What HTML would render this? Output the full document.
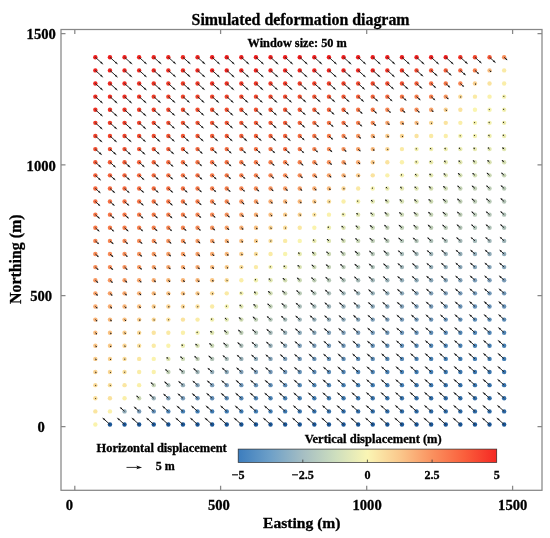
<!DOCTYPE html>
<html><head><meta charset="utf-8"><title>Simulated deformation diagram</title><style>html,body{margin:0;padding:0;background:#fff}svg{display:block}</style></head><body>
<svg width="550" height="538" viewBox="0 0 550 538">
<rect width="550" height="538" fill="#fff"/>
<g><circle cx="95.35" cy="57.30" r="2.2" fill="#ec1c1c"/><circle cx="109.95" cy="57.30" r="2.2" fill="#ec1e1d"/><circle cx="124.55" cy="57.30" r="2.2" fill="#ed201e"/><circle cx="139.15" cy="57.30" r="2.2" fill="#ed221e"/><circle cx="153.75" cy="57.30" r="2.2" fill="#ed251f"/><circle cx="168.35" cy="57.30" r="2.2" fill="#ed2720"/><circle cx="182.95" cy="57.30" r="2.2" fill="#ee2921"/><circle cx="197.55" cy="57.30" r="2.2" fill="#ed231f"/><circle cx="212.15" cy="57.30" r="2.2" fill="#ec1c1c"/><circle cx="226.75" cy="57.30" r="2.2" fill="#ec1c1c"/><circle cx="241.35" cy="57.30" r="2.2" fill="#ec1c1c"/><circle cx="255.95" cy="57.30" r="2.2" fill="#ec1c1c"/><circle cx="270.55" cy="57.30" r="2.2" fill="#ec1c1c"/><circle cx="285.15" cy="57.30" r="2.2" fill="#ec1c1c"/><circle cx="299.75" cy="57.30" r="2.2" fill="#ec1c1c"/><circle cx="314.35" cy="57.30" r="2.2" fill="#ec1c1c"/><circle cx="328.95" cy="57.30" r="2.2" fill="#ec1c1c"/><circle cx="343.55" cy="57.30" r="2.2" fill="#ec1c1c"/><circle cx="358.15" cy="57.30" r="2.2" fill="#ec1c1c"/><circle cx="372.75" cy="57.30" r="2.2" fill="#ec1c1c"/><circle cx="387.35" cy="57.30" r="2.2" fill="#ec1c1c"/><circle cx="401.95" cy="57.30" r="2.2" fill="#ec1c1c"/><circle cx="416.55" cy="57.30" r="2.2" fill="#ec1c1c"/><circle cx="431.15" cy="57.30" r="2.2" fill="#ec1c1c"/><circle cx="445.75" cy="57.30" r="2.2" fill="#ec1c1c"/><circle cx="460.35" cy="57.30" r="2.2" fill="#ef3124"/><circle cx="474.95" cy="57.30" r="2.2" fill="#f1472d"/><circle cx="489.55" cy="57.30" r="2.2" fill="#f35634"/><circle cx="504.15" cy="57.30" r="2.2" fill="#f88e5a"/><circle cx="95.35" cy="70.41" r="2.2" fill="#ed211e"/><circle cx="109.95" cy="70.41" r="2.2" fill="#ed231f"/><circle cx="124.55" cy="70.41" r="2.2" fill="#ed2620"/><circle cx="139.15" cy="70.41" r="2.2" fill="#ed2820"/><circle cx="153.75" cy="70.41" r="2.2" fill="#ee2a21"/><circle cx="168.35" cy="70.41" r="2.2" fill="#ee2c22"/><circle cx="182.95" cy="70.41" r="2.2" fill="#ee2e23"/><circle cx="197.55" cy="70.41" r="2.2" fill="#ee2921"/><circle cx="212.15" cy="70.41" r="2.2" fill="#ed221e"/><circle cx="226.75" cy="70.41" r="2.2" fill="#ed231f"/><circle cx="241.35" cy="70.41" r="2.2" fill="#ed241f"/><circle cx="255.95" cy="70.41" r="2.2" fill="#ed241f"/><circle cx="270.55" cy="70.41" r="2.2" fill="#ed251f"/><circle cx="285.15" cy="70.41" r="2.2" fill="#ed2620"/><circle cx="299.75" cy="70.41" r="2.2" fill="#ed2720"/><circle cx="314.35" cy="70.41" r="2.2" fill="#ed2720"/><circle cx="328.95" cy="70.41" r="2.2" fill="#ed2720"/><circle cx="343.55" cy="70.41" r="2.2" fill="#ed2720"/><circle cx="358.15" cy="70.41" r="2.2" fill="#ed2720"/><circle cx="372.75" cy="70.41" r="2.2" fill="#ed2720"/><circle cx="387.35" cy="70.41" r="2.2" fill="#ef3124"/><circle cx="401.95" cy="70.41" r="2.2" fill="#ef3726"/><circle cx="416.55" cy="70.41" r="2.2" fill="#f1472d"/><circle cx="431.15" cy="70.41" r="2.2" fill="#f25232"/><circle cx="445.75" cy="70.41" r="2.2" fill="#f45d38"/><circle cx="460.35" cy="70.41" r="2.2" fill="#f5643c"/><circle cx="474.95" cy="70.41" r="2.2" fill="#f77d4b"/><circle cx="489.55" cy="70.41" r="2.2" fill="#fabc7e"/><circle cx="504.15" cy="70.41" r="2.2" fill="#faeaa5"/><circle cx="95.35" cy="83.53" r="2.2" fill="#ed2720"/><circle cx="109.95" cy="83.53" r="2.2" fill="#ee2921"/><circle cx="124.55" cy="83.53" r="2.2" fill="#ee2b22"/><circle cx="139.15" cy="83.53" r="2.2" fill="#ee3023"/><circle cx="153.75" cy="83.53" r="2.2" fill="#ef3525"/><circle cx="168.35" cy="83.53" r="2.2" fill="#f03927"/><circle cx="182.95" cy="83.53" r="2.2" fill="#f03d28"/><circle cx="197.55" cy="83.53" r="2.2" fill="#f03927"/><circle cx="212.15" cy="83.53" r="2.2" fill="#ef3325"/><circle cx="226.75" cy="83.53" r="2.2" fill="#ef3425"/><circle cx="241.35" cy="83.53" r="2.2" fill="#ef3626"/><circle cx="255.95" cy="83.53" r="2.2" fill="#ef3726"/><circle cx="270.55" cy="83.53" r="2.2" fill="#f03927"/><circle cx="285.15" cy="83.53" r="2.2" fill="#f03a27"/><circle cx="299.75" cy="83.53" r="2.2" fill="#f03f29"/><circle cx="314.35" cy="83.53" r="2.2" fill="#f0412a"/><circle cx="328.95" cy="83.53" r="2.2" fill="#f0412a"/><circle cx="343.55" cy="83.53" r="2.2" fill="#f0412a"/><circle cx="358.15" cy="83.53" r="2.2" fill="#f1472d"/><circle cx="372.75" cy="83.53" r="2.2" fill="#f24c2f"/><circle cx="387.35" cy="83.53" r="2.2" fill="#f24c2f"/><circle cx="401.95" cy="83.53" r="2.2" fill="#f25232"/><circle cx="416.55" cy="83.53" r="2.2" fill="#f45d38"/><circle cx="431.15" cy="83.53" r="2.2" fill="#f66d42"/><circle cx="445.75" cy="83.53" r="2.2" fill="#f67747"/><circle cx="460.35" cy="83.53" r="2.2" fill="#f78451"/><circle cx="474.95" cy="83.53" r="2.2" fill="#fad18f"/><circle cx="489.55" cy="83.53" r="2.2" fill="#fae39f"/><circle cx="504.15" cy="83.53" r="2.2" fill="#faeea9"/><circle cx="95.35" cy="96.64" r="2.2" fill="#ee2c22"/><circle cx="109.95" cy="96.64" r="2.2" fill="#ee2e23"/><circle cx="124.55" cy="96.64" r="2.2" fill="#ef3024"/><circle cx="139.15" cy="96.64" r="2.2" fill="#ef3826"/><circle cx="153.75" cy="96.64" r="2.2" fill="#f03e29"/><circle cx="168.35" cy="96.64" r="2.2" fill="#f0422b"/><circle cx="182.95" cy="96.64" r="2.2" fill="#f1452c"/><circle cx="197.55" cy="96.64" r="2.2" fill="#f1442c"/><circle cx="212.15" cy="96.64" r="2.2" fill="#f1432b"/><circle cx="226.75" cy="96.64" r="2.2" fill="#f1442c"/><circle cx="241.35" cy="96.64" r="2.2" fill="#f1452c"/><circle cx="255.95" cy="96.64" r="2.2" fill="#f1462d"/><circle cx="270.55" cy="96.64" r="2.2" fill="#f1472d"/><circle cx="285.15" cy="96.64" r="2.2" fill="#f1492e"/><circle cx="299.75" cy="96.64" r="2.2" fill="#f25131"/><circle cx="314.35" cy="96.64" r="2.2" fill="#f35634"/><circle cx="328.95" cy="96.64" r="2.2" fill="#f35634"/><circle cx="343.55" cy="96.64" r="2.2" fill="#f35936"/><circle cx="358.15" cy="96.64" r="2.2" fill="#f45d38"/><circle cx="372.75" cy="96.64" r="2.2" fill="#f5643c"/><circle cx="387.35" cy="96.64" r="2.2" fill="#f66a40"/><circle cx="401.95" cy="96.64" r="2.2" fill="#f67445"/><circle cx="416.55" cy="96.64" r="2.2" fill="#f77d4b"/><circle cx="431.15" cy="96.64" r="2.2" fill="#f77d4b"/><circle cx="445.75" cy="96.64" r="2.2" fill="#f89761"/><circle cx="460.35" cy="96.64" r="2.2" fill="#fad895"/><circle cx="474.95" cy="96.64" r="2.2" fill="#faeaa5"/><circle cx="489.55" cy="96.64" r="2.2" fill="#faf1ac"/><circle cx="504.15" cy="96.64" r="2.2" fill="#f6f3b0"/><circle cx="95.35" cy="109.76" r="2.2" fill="#ef3124"/><circle cx="109.95" cy="109.76" r="2.2" fill="#ef3325"/><circle cx="124.55" cy="109.76" r="2.2" fill="#ef3626"/><circle cx="139.15" cy="109.76" r="2.2" fill="#f03e29"/><circle cx="153.75" cy="109.76" r="2.2" fill="#f1432b"/><circle cx="168.35" cy="109.76" r="2.2" fill="#f1482e"/><circle cx="182.95" cy="109.76" r="2.2" fill="#f24e30"/><circle cx="197.55" cy="109.76" r="2.2" fill="#f24e30"/><circle cx="212.15" cy="109.76" r="2.2" fill="#f24e30"/><circle cx="226.75" cy="109.76" r="2.2" fill="#f25031"/><circle cx="241.35" cy="109.76" r="2.2" fill="#f25132"/><circle cx="255.95" cy="109.76" r="2.2" fill="#f25332"/><circle cx="270.55" cy="109.76" r="2.2" fill="#f25433"/><circle cx="285.15" cy="109.76" r="2.2" fill="#f25533"/><circle cx="299.75" cy="109.76" r="2.2" fill="#f45b37"/><circle cx="314.35" cy="109.76" r="2.2" fill="#f4603a"/><circle cx="328.95" cy="109.76" r="2.2" fill="#f5643c"/><circle cx="343.55" cy="109.76" r="2.2" fill="#f5673e"/><circle cx="358.15" cy="109.76" r="2.2" fill="#f67445"/><circle cx="372.75" cy="109.76" r="2.2" fill="#f77a49"/><circle cx="387.35" cy="109.76" r="2.2" fill="#f88754"/><circle cx="401.95" cy="109.76" r="2.2" fill="#f88b57"/><circle cx="416.55" cy="109.76" r="2.2" fill="#f88e5a"/><circle cx="431.15" cy="109.76" r="2.2" fill="#f9a56c"/><circle cx="445.75" cy="109.76" r="2.2" fill="#fad18f"/><circle cx="460.35" cy="109.76" r="2.2" fill="#fae39f"/><circle cx="474.95" cy="109.76" r="2.2" fill="#faf5af"/><circle cx="489.55" cy="109.76" r="2.2" fill="#f6f3b0"/><circle cx="504.15" cy="109.76" r="2.2" fill="#f3f1b0"/><circle cx="95.35" cy="122.87" r="2.2" fill="#f03c28"/><circle cx="109.95" cy="122.87" r="2.2" fill="#f03d28"/><circle cx="124.55" cy="122.87" r="2.2" fill="#f03e29"/><circle cx="139.15" cy="122.87" r="2.2" fill="#f1432b"/><circle cx="153.75" cy="122.87" r="2.2" fill="#f1492e"/><circle cx="168.35" cy="122.87" r="2.2" fill="#f24e30"/><circle cx="182.95" cy="122.87" r="2.2" fill="#f25332"/><circle cx="197.55" cy="122.87" r="2.2" fill="#f25433"/><circle cx="212.15" cy="122.87" r="2.2" fill="#f35534"/><circle cx="226.75" cy="122.87" r="2.2" fill="#f35634"/><circle cx="241.35" cy="122.87" r="2.2" fill="#f35835"/><circle cx="255.95" cy="122.87" r="2.2" fill="#f35936"/><circle cx="270.55" cy="122.87" r="2.2" fill="#f35a37"/><circle cx="285.15" cy="122.87" r="2.2" fill="#f45c37"/><circle cx="299.75" cy="122.87" r="2.2" fill="#f5663d"/><circle cx="314.35" cy="122.87" r="2.2" fill="#f67043"/><circle cx="328.95" cy="122.87" r="2.2" fill="#f67445"/><circle cx="343.55" cy="122.87" r="2.2" fill="#f67044"/><circle cx="358.15" cy="122.87" r="2.2" fill="#f77d4b"/><circle cx="372.75" cy="122.87" r="2.2" fill="#f88b57"/><circle cx="387.35" cy="122.87" r="2.2" fill="#f9a56c"/><circle cx="401.95" cy="122.87" r="2.2" fill="#f9b579"/><circle cx="416.55" cy="122.87" r="2.2" fill="#fabc7e"/><circle cx="431.15" cy="122.87" r="2.2" fill="#fad895"/><circle cx="445.75" cy="122.87" r="2.2" fill="#fae39f"/><circle cx="460.35" cy="122.87" r="2.2" fill="#faeea9"/><circle cx="474.95" cy="122.87" r="2.2" fill="#f6f3b0"/><circle cx="489.55" cy="122.87" r="2.2" fill="#f3f1b0"/><circle cx="504.15" cy="122.87" r="2.2" fill="#f0efb0"/><circle cx="95.35" cy="135.98" r="2.2" fill="#f0422b"/><circle cx="109.95" cy="135.98" r="2.2" fill="#f1432b"/><circle cx="124.55" cy="135.98" r="2.2" fill="#f1442c"/><circle cx="139.15" cy="135.98" r="2.2" fill="#f1492e"/><circle cx="153.75" cy="135.98" r="2.2" fill="#f24e30"/><circle cx="168.35" cy="135.98" r="2.2" fill="#f25332"/><circle cx="182.95" cy="135.98" r="2.2" fill="#f35634"/><circle cx="197.55" cy="135.98" r="2.2" fill="#f35835"/><circle cx="212.15" cy="135.98" r="2.2" fill="#f35b37"/><circle cx="226.75" cy="135.98" r="2.2" fill="#f45c38"/><circle cx="241.35" cy="135.98" r="2.2" fill="#f45e39"/><circle cx="255.95" cy="135.98" r="2.2" fill="#f45f39"/><circle cx="270.55" cy="135.98" r="2.2" fill="#f4613a"/><circle cx="285.15" cy="135.98" r="2.2" fill="#f5623b"/><circle cx="299.75" cy="135.98" r="2.2" fill="#f66f43"/><circle cx="314.35" cy="135.98" r="2.2" fill="#f67445"/><circle cx="328.95" cy="135.98" r="2.2" fill="#f77d4b"/><circle cx="343.55" cy="135.98" r="2.2" fill="#f88754"/><circle cx="358.15" cy="135.98" r="2.2" fill="#f89761"/><circle cx="372.75" cy="135.98" r="2.2" fill="#f9ae73"/><circle cx="387.35" cy="135.98" r="2.2" fill="#faca89"/><circle cx="401.95" cy="135.98" r="2.2" fill="#fad592"/><circle cx="416.55" cy="135.98" r="2.2" fill="#fae39f"/><circle cx="431.15" cy="135.98" r="2.2" fill="#faeaa5"/><circle cx="445.75" cy="135.98" r="2.2" fill="#faeea9"/><circle cx="460.35" cy="135.98" r="2.2" fill="#f6f3b0"/><circle cx="474.95" cy="135.98" r="2.2" fill="#f2f0b0"/><circle cx="489.55" cy="135.98" r="2.2" fill="#efefb0"/><circle cx="504.15" cy="135.98" r="2.2" fill="#ecedb1"/><circle cx="95.35" cy="149.10" r="2.2" fill="#f24e30"/><circle cx="109.95" cy="149.10" r="2.2" fill="#f25031"/><circle cx="124.55" cy="149.10" r="2.2" fill="#f25232"/><circle cx="139.15" cy="149.10" r="2.2" fill="#f35634"/><circle cx="153.75" cy="149.10" r="2.2" fill="#f35a37"/><circle cx="168.35" cy="149.10" r="2.2" fill="#f45e39"/><circle cx="182.95" cy="149.10" r="2.2" fill="#f5623b"/><circle cx="197.55" cy="149.10" r="2.2" fill="#f5683e"/><circle cx="212.15" cy="149.10" r="2.2" fill="#f66d41"/><circle cx="226.75" cy="149.10" r="2.2" fill="#f66f43"/><circle cx="241.35" cy="149.10" r="2.2" fill="#f67043"/><circle cx="255.95" cy="149.10" r="2.2" fill="#f67244"/><circle cx="270.55" cy="149.10" r="2.2" fill="#f67446"/><circle cx="285.15" cy="149.10" r="2.2" fill="#f66d42"/><circle cx="299.75" cy="149.10" r="2.2" fill="#f67647"/><circle cx="314.35" cy="149.10" r="2.2" fill="#f78451"/><circle cx="328.95" cy="149.10" r="2.2" fill="#f88c58"/><circle cx="343.55" cy="149.10" r="2.2" fill="#f8955f"/><circle cx="358.15" cy="149.10" r="2.2" fill="#f9a36a"/><circle cx="372.75" cy="149.10" r="2.2" fill="#faba7c"/><circle cx="387.35" cy="149.10" r="2.2" fill="#fad694"/><circle cx="401.95" cy="149.10" r="2.2" fill="#faeaa5"/><circle cx="416.55" cy="149.10" r="2.2" fill="#f4f1b0"/><circle cx="431.15" cy="149.10" r="2.2" fill="#f2f0b0"/><circle cx="445.75" cy="149.10" r="2.2" fill="#eeeeb1"/><circle cx="460.35" cy="149.10" r="2.2" fill="#eaecb1"/><circle cx="474.95" cy="149.10" r="2.2" fill="#e8eab1"/><circle cx="489.55" cy="149.10" r="2.2" fill="#e3e8b2"/><circle cx="504.15" cy="149.10" r="2.2" fill="#e1e7b2"/><circle cx="95.35" cy="162.21" r="2.2" fill="#f35936"/><circle cx="109.95" cy="162.21" r="2.2" fill="#f45b37"/><circle cx="124.55" cy="162.21" r="2.2" fill="#f45d38"/><circle cx="139.15" cy="162.21" r="2.2" fill="#f5623b"/><circle cx="153.75" cy="162.21" r="2.2" fill="#f5663d"/><circle cx="168.35" cy="162.21" r="2.2" fill="#f66b40"/><circle cx="182.95" cy="162.21" r="2.2" fill="#f66f42"/><circle cx="197.55" cy="162.21" r="2.2" fill="#f67546"/><circle cx="212.15" cy="162.21" r="2.2" fill="#f67044"/><circle cx="226.75" cy="162.21" r="2.2" fill="#f67445"/><circle cx="241.35" cy="162.21" r="2.2" fill="#f67747"/><circle cx="255.95" cy="162.21" r="2.2" fill="#f77a49"/><circle cx="270.55" cy="162.21" r="2.2" fill="#f77d4b"/><circle cx="285.15" cy="162.21" r="2.2" fill="#f7804e"/><circle cx="299.75" cy="162.21" r="2.2" fill="#f78451"/><circle cx="314.35" cy="162.21" r="2.2" fill="#f88b57"/><circle cx="328.95" cy="162.21" r="2.2" fill="#f8935e"/><circle cx="343.55" cy="162.21" r="2.2" fill="#f89c65"/><circle cx="358.15" cy="162.21" r="2.2" fill="#f9ae73"/><circle cx="372.75" cy="162.21" r="2.2" fill="#faca89"/><circle cx="387.35" cy="162.21" r="2.2" fill="#fae39f"/><circle cx="401.95" cy="162.21" r="2.2" fill="#faf1ac"/><circle cx="416.55" cy="162.21" r="2.2" fill="#f2f0b0"/><circle cx="431.15" cy="162.21" r="2.2" fill="#ecedb1"/><circle cx="445.75" cy="162.21" r="2.2" fill="#e7eab1"/><circle cx="460.35" cy="162.21" r="2.2" fill="#e2e7b2"/><circle cx="474.95" cy="162.21" r="2.2" fill="#dce4b3"/><circle cx="489.55" cy="162.21" r="2.2" fill="#dae2b3"/><circle cx="504.15" cy="162.21" r="2.2" fill="#d7e1b3"/><circle cx="95.35" cy="175.33" r="2.2" fill="#f4603a"/><circle cx="109.95" cy="175.33" r="2.2" fill="#f5623b"/><circle cx="124.55" cy="175.33" r="2.2" fill="#f5643c"/><circle cx="139.15" cy="175.33" r="2.2" fill="#f5693f"/><circle cx="153.75" cy="175.33" r="2.2" fill="#f66d41"/><circle cx="168.35" cy="175.33" r="2.2" fill="#f67144"/><circle cx="182.95" cy="175.33" r="2.2" fill="#f67546"/><circle cx="197.55" cy="175.33" r="2.2" fill="#f67044"/><circle cx="212.15" cy="175.33" r="2.2" fill="#f67747"/><circle cx="226.75" cy="175.33" r="2.2" fill="#f77a49"/><circle cx="241.35" cy="175.33" r="2.2" fill="#f77d4b"/><circle cx="255.95" cy="175.33" r="2.2" fill="#f7804e"/><circle cx="270.55" cy="175.33" r="2.2" fill="#f88754"/><circle cx="285.15" cy="175.33" r="2.2" fill="#f88b57"/><circle cx="299.75" cy="175.33" r="2.2" fill="#f8905c"/><circle cx="314.35" cy="175.33" r="2.2" fill="#f89761"/><circle cx="328.95" cy="175.33" r="2.2" fill="#f9a56c"/><circle cx="343.55" cy="175.33" r="2.2" fill="#f9b377"/><circle cx="358.15" cy="175.33" r="2.2" fill="#faca89"/><circle cx="372.75" cy="175.33" r="2.2" fill="#fae39f"/><circle cx="387.35" cy="175.33" r="2.2" fill="#faf1ac"/><circle cx="401.95" cy="175.33" r="2.2" fill="#f2f0b0"/><circle cx="416.55" cy="175.33" r="2.2" fill="#e9ebb1"/><circle cx="431.15" cy="175.33" r="2.2" fill="#e3e8b2"/><circle cx="445.75" cy="175.33" r="2.2" fill="#dce4b3"/><circle cx="460.35" cy="175.33" r="2.2" fill="#d5e0b4"/><circle cx="474.95" cy="175.33" r="2.2" fill="#d2deb4"/><circle cx="489.55" cy="175.33" r="2.2" fill="#cbd8b5"/><circle cx="504.15" cy="175.33" r="2.2" fill="#c7d5b5"/><circle cx="95.35" cy="188.44" r="2.2" fill="#f5673e"/><circle cx="109.95" cy="188.44" r="2.2" fill="#f5693f"/><circle cx="124.55" cy="188.44" r="2.2" fill="#f66b40"/><circle cx="139.15" cy="188.44" r="2.2" fill="#f66d41"/><circle cx="153.75" cy="188.44" r="2.2" fill="#f66f42"/><circle cx="168.35" cy="188.44" r="2.2" fill="#f67043"/><circle cx="182.95" cy="188.44" r="2.2" fill="#f67345"/><circle cx="197.55" cy="188.44" r="2.2" fill="#f77848"/><circle cx="212.15" cy="188.44" r="2.2" fill="#f77e4c"/><circle cx="226.75" cy="188.44" r="2.2" fill="#f7814f"/><circle cx="241.35" cy="188.44" r="2.2" fill="#f78552"/><circle cx="255.95" cy="188.44" r="2.2" fill="#f88c58"/><circle cx="270.55" cy="188.44" r="2.2" fill="#f8945f"/><circle cx="285.15" cy="188.44" r="2.2" fill="#f99d66"/><circle cx="299.75" cy="188.44" r="2.2" fill="#f9a26a"/><circle cx="314.35" cy="188.44" r="2.2" fill="#f9ad72"/><circle cx="328.95" cy="188.44" r="2.2" fill="#fabd7f"/><circle cx="343.55" cy="188.44" r="2.2" fill="#fad593"/><circle cx="358.15" cy="188.44" r="2.2" fill="#fae9a5"/><circle cx="372.75" cy="188.44" r="2.2" fill="#f5f2b0"/><circle cx="387.35" cy="188.44" r="2.2" fill="#eaecb1"/><circle cx="401.95" cy="188.44" r="2.2" fill="#e4e8b2"/><circle cx="416.55" cy="188.44" r="2.2" fill="#dee5b2"/><circle cx="431.15" cy="188.44" r="2.2" fill="#d6e0b4"/><circle cx="445.75" cy="188.44" r="2.2" fill="#cedbb4"/><circle cx="460.35" cy="188.44" r="2.2" fill="#c5d4b6"/><circle cx="474.95" cy="188.44" r="2.2" fill="#c1d0b6"/><circle cx="489.55" cy="188.44" r="2.2" fill="#bdcdb6"/><circle cx="504.15" cy="188.44" r="2.2" fill="#b9cab7"/><circle cx="95.35" cy="201.55" r="2.2" fill="#f66d42"/><circle cx="109.95" cy="201.55" r="2.2" fill="#f66f43"/><circle cx="124.55" cy="201.55" r="2.2" fill="#f67144"/><circle cx="139.15" cy="201.55" r="2.2" fill="#f67345"/><circle cx="153.75" cy="201.55" r="2.2" fill="#f67546"/><circle cx="168.35" cy="201.55" r="2.2" fill="#f77747"/><circle cx="182.95" cy="201.55" r="2.2" fill="#f77949"/><circle cx="197.55" cy="201.55" r="2.2" fill="#f77d4b"/><circle cx="212.15" cy="201.55" r="2.2" fill="#f78350"/><circle cx="226.75" cy="201.55" r="2.2" fill="#f88a56"/><circle cx="241.35" cy="201.55" r="2.2" fill="#f8925d"/><circle cx="255.95" cy="201.55" r="2.2" fill="#f99d66"/><circle cx="270.55" cy="201.55" r="2.2" fill="#f9ab70"/><circle cx="285.15" cy="201.55" r="2.2" fill="#f9b578"/><circle cx="299.75" cy="201.55" r="2.2" fill="#faba7c"/><circle cx="314.35" cy="201.55" r="2.2" fill="#fac887"/><circle cx="328.95" cy="201.55" r="2.2" fill="#fadd9a"/><circle cx="343.55" cy="201.55" r="2.2" fill="#faefa9"/><circle cx="358.15" cy="201.55" r="2.2" fill="#f4f1b0"/><circle cx="372.75" cy="201.55" r="2.2" fill="#e3e8b2"/><circle cx="387.35" cy="201.55" r="2.2" fill="#d9e2b3"/><circle cx="401.95" cy="201.55" r="2.2" fill="#d6e0b4"/><circle cx="416.55" cy="201.55" r="2.2" fill="#d6e0b4"/><circle cx="431.15" cy="201.55" r="2.2" fill="#cedbb4"/><circle cx="445.75" cy="201.55" r="2.2" fill="#c5d4b6"/><circle cx="460.35" cy="201.55" r="2.2" fill="#c1d0b6"/><circle cx="474.95" cy="201.55" r="2.2" fill="#bdcdb6"/><circle cx="489.55" cy="201.55" r="2.2" fill="#b9cab7"/><circle cx="504.15" cy="201.55" r="2.2" fill="#b5c6b8"/><circle cx="95.35" cy="214.67" r="2.2" fill="#f67445"/><circle cx="109.95" cy="214.67" r="2.2" fill="#f67546"/><circle cx="124.55" cy="214.67" r="2.2" fill="#f77848"/><circle cx="139.15" cy="214.67" r="2.2" fill="#f77a49"/><circle cx="153.75" cy="214.67" r="2.2" fill="#f77c4a"/><circle cx="168.35" cy="214.67" r="2.2" fill="#f77e4c"/><circle cx="182.95" cy="214.67" r="2.2" fill="#f7814e"/><circle cx="197.55" cy="214.67" r="2.2" fill="#f78552"/><circle cx="212.15" cy="214.67" r="2.2" fill="#f88b58"/><circle cx="226.75" cy="214.67" r="2.2" fill="#f8945e"/><circle cx="241.35" cy="214.67" r="2.2" fill="#f9a068"/><circle cx="255.95" cy="214.67" r="2.2" fill="#f9ae72"/><circle cx="270.55" cy="214.67" r="2.2" fill="#fabe7f"/><circle cx="285.15" cy="214.67" r="2.2" fill="#facb89"/><circle cx="299.75" cy="214.67" r="2.2" fill="#fad290"/><circle cx="314.35" cy="214.67" r="2.2" fill="#fae29e"/><circle cx="328.95" cy="214.67" r="2.2" fill="#faf1ab"/><circle cx="343.55" cy="214.67" r="2.2" fill="#f0efb0"/><circle cx="358.15" cy="214.67" r="2.2" fill="#e2e7b2"/><circle cx="372.75" cy="214.67" r="2.2" fill="#d6e0b4"/><circle cx="387.35" cy="214.67" r="2.2" fill="#cddab5"/><circle cx="401.95" cy="214.67" r="2.2" fill="#cad7b5"/><circle cx="416.55" cy="214.67" r="2.2" fill="#cad7b5"/><circle cx="431.15" cy="214.67" r="2.2" fill="#c5d4b6"/><circle cx="445.75" cy="214.67" r="2.2" fill="#c1d0b6"/><circle cx="460.35" cy="214.67" r="2.2" fill="#bdcdb6"/><circle cx="474.95" cy="214.67" r="2.2" fill="#b9cab7"/><circle cx="489.55" cy="214.67" r="2.2" fill="#b5c6b8"/><circle cx="504.15" cy="214.67" r="2.2" fill="#b0c3b8"/><circle cx="95.35" cy="227.78" r="2.2" fill="#f77a49"/><circle cx="109.95" cy="227.78" r="2.2" fill="#f77c4a"/><circle cx="124.55" cy="227.78" r="2.2" fill="#f77e4c"/><circle cx="139.15" cy="227.78" r="2.2" fill="#f7804e"/><circle cx="153.75" cy="227.78" r="2.2" fill="#f78350"/><circle cx="168.35" cy="227.78" r="2.2" fill="#f78552"/><circle cx="182.95" cy="227.78" r="2.2" fill="#f88855"/><circle cx="197.55" cy="227.78" r="2.2" fill="#f88d59"/><circle cx="212.15" cy="227.78" r="2.2" fill="#f89560"/><circle cx="226.75" cy="227.78" r="2.2" fill="#f9a26a"/><circle cx="241.35" cy="227.78" r="2.2" fill="#f9b075"/><circle cx="255.95" cy="227.78" r="2.2" fill="#fac282"/><circle cx="270.55" cy="227.78" r="2.2" fill="#fad290"/><circle cx="285.15" cy="227.78" r="2.2" fill="#fadc99"/><circle cx="299.75" cy="227.78" r="2.2" fill="#fae8a3"/><circle cx="314.35" cy="227.78" r="2.2" fill="#faf3ad"/><circle cx="328.95" cy="227.78" r="2.2" fill="#edeeb1"/><circle cx="343.55" cy="227.78" r="2.2" fill="#dde4b3"/><circle cx="358.15" cy="227.78" r="2.2" fill="#d2deb4"/><circle cx="372.75" cy="227.78" r="2.2" fill="#c8d6b5"/><circle cx="387.35" cy="227.78" r="2.2" fill="#c1d0b6"/><circle cx="401.95" cy="227.78" r="2.2" fill="#bfcfb6"/><circle cx="416.55" cy="227.78" r="2.2" fill="#c1d0b6"/><circle cx="431.15" cy="227.78" r="2.2" fill="#bdcdb6"/><circle cx="445.75" cy="227.78" r="2.2" fill="#b9cab7"/><circle cx="460.35" cy="227.78" r="2.2" fill="#b5c6b8"/><circle cx="474.95" cy="227.78" r="2.2" fill="#b0c3b8"/><circle cx="489.55" cy="227.78" r="2.2" fill="#b0c3b8"/><circle cx="504.15" cy="227.78" r="2.2" fill="#acbfb8"/><circle cx="95.35" cy="240.90" r="2.2" fill="#f78451"/><circle cx="109.95" cy="240.90" r="2.2" fill="#f78552"/><circle cx="124.55" cy="240.90" r="2.2" fill="#f88955"/><circle cx="139.15" cy="240.90" r="2.2" fill="#f88c59"/><circle cx="153.75" cy="240.90" r="2.2" fill="#f88f5b"/><circle cx="168.35" cy="240.90" r="2.2" fill="#f8935d"/><circle cx="182.95" cy="240.90" r="2.2" fill="#f89660"/><circle cx="197.55" cy="240.90" r="2.2" fill="#f89b64"/><circle cx="212.15" cy="240.90" r="2.2" fill="#f9a36b"/><circle cx="226.75" cy="240.90" r="2.2" fill="#f9b075"/><circle cx="241.35" cy="240.90" r="2.2" fill="#fac081"/><circle cx="255.95" cy="240.90" r="2.2" fill="#face8d"/><circle cx="270.55" cy="240.90" r="2.2" fill="#fade9b"/><circle cx="285.15" cy="240.90" r="2.2" fill="#faeba6"/><circle cx="299.75" cy="240.90" r="2.2" fill="#f9f4af"/><circle cx="314.35" cy="240.90" r="2.2" fill="#ebecb1"/><circle cx="328.95" cy="240.90" r="2.2" fill="#dde4b3"/><circle cx="343.55" cy="240.90" r="2.2" fill="#d2deb4"/><circle cx="358.15" cy="240.90" r="2.2" fill="#c8d6b5"/><circle cx="372.75" cy="240.90" r="2.2" fill="#beceb6"/><circle cx="387.35" cy="240.90" r="2.2" fill="#b7c8b7"/><circle cx="401.95" cy="240.90" r="2.2" fill="#b3c5b8"/><circle cx="416.55" cy="240.90" r="2.2" fill="#b2c4b8"/><circle cx="431.15" cy="240.90" r="2.2" fill="#aec1b8"/><circle cx="445.75" cy="240.90" r="2.2" fill="#aabeb9"/><circle cx="460.35" cy="240.90" r="2.2" fill="#a6bab9"/><circle cx="474.95" cy="240.90" r="2.2" fill="#a3b9b9"/><circle cx="489.55" cy="240.90" r="2.2" fill="#a1b7b9"/><circle cx="504.15" cy="240.90" r="2.2" fill="#9eb5b9"/><circle cx="95.35" cy="254.01" r="2.2" fill="#f88b57"/><circle cx="109.95" cy="254.01" r="2.2" fill="#f88b57"/><circle cx="124.55" cy="254.01" r="2.2" fill="#f88f5b"/><circle cx="139.15" cy="254.01" r="2.2" fill="#f89560"/><circle cx="153.75" cy="254.01" r="2.2" fill="#f89b64"/><circle cx="168.35" cy="254.01" r="2.2" fill="#f9a068"/><circle cx="182.95" cy="254.01" r="2.2" fill="#f9a168"/><circle cx="197.55" cy="254.01" r="2.2" fill="#f9a168"/><circle cx="212.15" cy="254.01" r="2.2" fill="#f9ac71"/><circle cx="226.75" cy="254.01" r="2.2" fill="#faba7c"/><circle cx="241.35" cy="254.01" r="2.2" fill="#facd8c"/><circle cx="255.95" cy="254.01" r="2.2" fill="#fadd99"/><circle cx="270.55" cy="254.01" r="2.2" fill="#faeba6"/><circle cx="285.15" cy="254.01" r="2.2" fill="#f8f4af"/><circle cx="299.75" cy="254.01" r="2.2" fill="#e6eab2"/><circle cx="314.35" cy="254.01" r="2.2" fill="#d8e2b3"/><circle cx="328.95" cy="254.01" r="2.2" fill="#ccd9b5"/><circle cx="343.55" cy="254.01" r="2.2" fill="#c3d2b6"/><circle cx="358.15" cy="254.01" r="2.2" fill="#bcccb7"/><circle cx="372.75" cy="254.01" r="2.2" fill="#b5c6b7"/><circle cx="387.35" cy="254.01" r="2.2" fill="#aec1b8"/><circle cx="401.95" cy="254.01" r="2.2" fill="#a7bbb9"/><circle cx="416.55" cy="254.01" r="2.2" fill="#a3b9b9"/><circle cx="431.15" cy="254.01" r="2.2" fill="#9eb5b9"/><circle cx="445.75" cy="254.01" r="2.2" fill="#9ab2b9"/><circle cx="460.35" cy="254.01" r="2.2" fill="#95afb9"/><circle cx="474.95" cy="254.01" r="2.2" fill="#90acb9"/><circle cx="489.55" cy="254.01" r="2.2" fill="#90acb9"/><circle cx="504.15" cy="254.01" r="2.2" fill="#90acb9"/><circle cx="95.35" cy="267.12" r="2.2" fill="#f88e5a"/><circle cx="109.95" cy="267.12" r="2.2" fill="#f88e5a"/><circle cx="124.55" cy="267.12" r="2.2" fill="#f8945f"/><circle cx="139.15" cy="267.12" r="2.2" fill="#f89a63"/><circle cx="153.75" cy="267.12" r="2.2" fill="#f9a36b"/><circle cx="168.35" cy="267.12" r="2.2" fill="#f9a96f"/><circle cx="182.95" cy="267.12" r="2.2" fill="#f9aa70"/><circle cx="197.55" cy="267.12" r="2.2" fill="#f9aa70"/><circle cx="212.15" cy="267.12" r="2.2" fill="#f9b97b"/><circle cx="226.75" cy="267.12" r="2.2" fill="#facb89"/><circle cx="241.35" cy="267.12" r="2.2" fill="#fadc99"/><circle cx="255.95" cy="267.12" r="2.2" fill="#faeba6"/><circle cx="270.55" cy="267.12" r="2.2" fill="#f5f2b0"/><circle cx="285.15" cy="267.12" r="2.2" fill="#e7eab1"/><circle cx="299.75" cy="267.12" r="2.2" fill="#d9e2b3"/><circle cx="314.35" cy="267.12" r="2.2" fill="#ccd9b5"/><circle cx="328.95" cy="267.12" r="2.2" fill="#c3d2b6"/><circle cx="343.55" cy="267.12" r="2.2" fill="#bacbb7"/><circle cx="358.15" cy="267.12" r="2.2" fill="#b3c5b8"/><circle cx="372.75" cy="267.12" r="2.2" fill="#acc0b8"/><circle cx="387.35" cy="267.12" r="2.2" fill="#a5bab9"/><circle cx="401.95" cy="267.12" r="2.2" fill="#9eb5b9"/><circle cx="416.55" cy="267.12" r="2.2" fill="#9ab2b9"/><circle cx="431.15" cy="267.12" r="2.2" fill="#95afb9"/><circle cx="445.75" cy="267.12" r="2.2" fill="#90acb9"/><circle cx="460.35" cy="267.12" r="2.2" fill="#8ba8b9"/><circle cx="474.95" cy="267.12" r="2.2" fill="#86a5b9"/><circle cx="489.55" cy="267.12" r="2.2" fill="#86a5b9"/><circle cx="504.15" cy="267.12" r="2.2" fill="#86a5b9"/><circle cx="95.35" cy="280.24" r="2.2" fill="#f89862"/><circle cx="109.95" cy="280.24" r="2.2" fill="#f89862"/><circle cx="124.55" cy="280.24" r="2.2" fill="#f99f67"/><circle cx="139.15" cy="280.24" r="2.2" fill="#f9a76e"/><circle cx="153.75" cy="280.24" r="2.2" fill="#f9af74"/><circle cx="168.35" cy="280.24" r="2.2" fill="#f9b87a"/><circle cx="182.95" cy="280.24" r="2.2" fill="#f9b77a"/><circle cx="197.55" cy="280.24" r="2.2" fill="#f9b77a"/><circle cx="212.15" cy="280.24" r="2.2" fill="#fac786"/><circle cx="226.75" cy="280.24" r="2.2" fill="#fadb98"/><circle cx="241.35" cy="280.24" r="2.2" fill="#faeea9"/><circle cx="255.95" cy="280.24" r="2.2" fill="#f1f0b0"/><circle cx="270.55" cy="280.24" r="2.2" fill="#e1e7b2"/><circle cx="285.15" cy="280.24" r="2.2" fill="#d4dfb4"/><circle cx="299.75" cy="280.24" r="2.2" fill="#cbd9b5"/><circle cx="314.35" cy="280.24" r="2.2" fill="#c0cfb6"/><circle cx="328.95" cy="280.24" r="2.2" fill="#b6c8b7"/><circle cx="343.55" cy="280.24" r="2.2" fill="#aec1b8"/><circle cx="358.15" cy="280.24" r="2.2" fill="#a7bbb9"/><circle cx="372.75" cy="280.24" r="2.2" fill="#a1b7b9"/><circle cx="387.35" cy="280.24" r="2.2" fill="#9bb3b9"/><circle cx="401.95" cy="280.24" r="2.2" fill="#94aeb9"/><circle cx="416.55" cy="280.24" r="2.2" fill="#90acb9"/><circle cx="431.15" cy="280.24" r="2.2" fill="#8ba8b9"/><circle cx="445.75" cy="280.24" r="2.2" fill="#86a5b9"/><circle cx="460.35" cy="280.24" r="2.2" fill="#82a2b9"/><circle cx="474.95" cy="280.24" r="2.2" fill="#7d9eb9"/><circle cx="489.55" cy="280.24" r="2.2" fill="#7d9eb9"/><circle cx="504.15" cy="280.24" r="2.2" fill="#7d9eb9"/><circle cx="95.35" cy="293.35" r="2.2" fill="#f9a269"/><circle cx="109.95" cy="293.35" r="2.2" fill="#f9a269"/><circle cx="124.55" cy="293.35" r="2.2" fill="#f9a86e"/><circle cx="139.15" cy="293.35" r="2.2" fill="#f9b276"/><circle cx="153.75" cy="293.35" r="2.2" fill="#fabb7d"/><circle cx="168.35" cy="293.35" r="2.2" fill="#fac282"/><circle cx="182.95" cy="293.35" r="2.2" fill="#fac484"/><circle cx="197.55" cy="293.35" r="2.2" fill="#fac988"/><circle cx="212.15" cy="293.35" r="2.2" fill="#fad895"/><circle cx="226.75" cy="293.35" r="2.2" fill="#faeaa5"/><circle cx="241.35" cy="293.35" r="2.2" fill="#f2f0b0"/><circle cx="255.95" cy="293.35" r="2.2" fill="#e1e7b2"/><circle cx="270.55" cy="293.35" r="2.2" fill="#d1ddb4"/><circle cx="285.15" cy="293.35" r="2.2" fill="#c4d2b6"/><circle cx="299.75" cy="293.35" r="2.2" fill="#bacbb7"/><circle cx="314.35" cy="293.35" r="2.2" fill="#b2c4b8"/><circle cx="328.95" cy="293.35" r="2.2" fill="#aabdb9"/><circle cx="343.55" cy="293.35" r="2.2" fill="#a0b7b9"/><circle cx="358.15" cy="293.35" r="2.2" fill="#9bb3b9"/><circle cx="372.75" cy="293.35" r="2.2" fill="#97b1b9"/><circle cx="387.35" cy="293.35" r="2.2" fill="#92adb9"/><circle cx="401.95" cy="293.35" r="2.2" fill="#8aa8b9"/><circle cx="416.55" cy="293.35" r="2.2" fill="#86a5b9"/><circle cx="431.15" cy="293.35" r="2.2" fill="#82a2b9"/><circle cx="445.75" cy="293.35" r="2.2" fill="#7d9eb9"/><circle cx="460.35" cy="293.35" r="2.2" fill="#789bb9"/><circle cx="474.95" cy="293.35" r="2.2" fill="#7298b8"/><circle cx="489.55" cy="293.35" r="2.2" fill="#7298b8"/><circle cx="504.15" cy="293.35" r="2.2" fill="#7298b8"/><circle cx="95.35" cy="306.47" r="2.2" fill="#f9ab71"/><circle cx="109.95" cy="306.47" r="2.2" fill="#f9af74"/><circle cx="124.55" cy="306.47" r="2.2" fill="#f9b578"/><circle cx="139.15" cy="306.47" r="2.2" fill="#fac081"/><circle cx="153.75" cy="306.47" r="2.2" fill="#facc8b"/><circle cx="168.35" cy="306.47" r="2.2" fill="#fad290"/><circle cx="182.95" cy="306.47" r="2.2" fill="#fad694"/><circle cx="197.55" cy="306.47" r="2.2" fill="#fade9a"/><circle cx="212.15" cy="306.47" r="2.2" fill="#faeba6"/><circle cx="226.75" cy="306.47" r="2.2" fill="#f5f2b0"/><circle cx="241.35" cy="306.47" r="2.2" fill="#e2e7b2"/><circle cx="255.95" cy="306.47" r="2.2" fill="#d1ddb4"/><circle cx="270.55" cy="306.47" r="2.2" fill="#c0d0b6"/><circle cx="285.15" cy="306.47" r="2.2" fill="#b3c5b8"/><circle cx="299.75" cy="306.47" r="2.2" fill="#aabdb9"/><circle cx="314.35" cy="306.47" r="2.2" fill="#a4b9b9"/><circle cx="328.95" cy="306.47" r="2.2" fill="#9cb3b9"/><circle cx="343.55" cy="306.47" r="2.2" fill="#96afb9"/><circle cx="358.15" cy="306.47" r="2.2" fill="#92adb9"/><circle cx="372.75" cy="306.47" r="2.2" fill="#8ba8b9"/><circle cx="387.35" cy="306.47" r="2.2" fill="#85a4b9"/><circle cx="401.95" cy="306.47" r="2.2" fill="#81a1b9"/><circle cx="416.55" cy="306.47" r="2.2" fill="#7d9eb9"/><circle cx="431.15" cy="306.47" r="2.2" fill="#789bb9"/><circle cx="445.75" cy="306.47" r="2.2" fill="#7298b8"/><circle cx="460.35" cy="306.47" r="2.2" fill="#6d95b8"/><circle cx="474.95" cy="306.47" r="2.2" fill="#6892b8"/><circle cx="489.55" cy="306.47" r="2.2" fill="#6892b8"/><circle cx="504.15" cy="306.47" r="2.2" fill="#6892b8"/><circle cx="95.35" cy="319.58" r="2.2" fill="#f9b478"/><circle cx="109.95" cy="319.58" r="2.2" fill="#f9b87a"/><circle cx="124.55" cy="319.58" r="2.2" fill="#fac182"/><circle cx="139.15" cy="319.58" r="2.2" fill="#facc8b"/><circle cx="153.75" cy="319.58" r="2.2" fill="#fad794"/><circle cx="168.35" cy="319.58" r="2.2" fill="#fadf9c"/><circle cx="182.95" cy="319.58" r="2.2" fill="#fae39f"/><circle cx="197.55" cy="319.58" r="2.2" fill="#faeca7"/><circle cx="212.15" cy="319.58" r="2.2" fill="#f2f0b0"/><circle cx="226.75" cy="319.58" r="2.2" fill="#e1e7b2"/><circle cx="241.35" cy="319.58" r="2.2" fill="#d1ddb4"/><circle cx="255.95" cy="319.58" r="2.2" fill="#c0d0b6"/><circle cx="270.55" cy="319.58" r="2.2" fill="#b3c5b8"/><circle cx="285.15" cy="319.58" r="2.2" fill="#a6bbb9"/><circle cx="299.75" cy="319.58" r="2.2" fill="#9cb3b9"/><circle cx="314.35" cy="319.58" r="2.2" fill="#96afb9"/><circle cx="328.95" cy="319.58" r="2.2" fill="#91acb9"/><circle cx="343.55" cy="319.58" r="2.2" fill="#8ca9b9"/><circle cx="358.15" cy="319.58" r="2.2" fill="#85a4b9"/><circle cx="372.75" cy="319.58" r="2.2" fill="#7fa0b9"/><circle cx="387.35" cy="319.58" r="2.2" fill="#7b9db9"/><circle cx="401.95" cy="319.58" r="2.2" fill="#779bb9"/><circle cx="416.55" cy="319.58" r="2.2" fill="#7298b8"/><circle cx="431.15" cy="319.58" r="2.2" fill="#6d95b8"/><circle cx="445.75" cy="319.58" r="2.2" fill="#6892b8"/><circle cx="460.35" cy="319.58" r="2.2" fill="#628fb7"/><circle cx="474.95" cy="319.58" r="2.2" fill="#5c8cb6"/><circle cx="489.55" cy="319.58" r="2.2" fill="#5c8cb6"/><circle cx="504.15" cy="319.58" r="2.2" fill="#5c8cb6"/><circle cx="95.35" cy="332.69" r="2.2" fill="#fabc7e"/><circle cx="109.95" cy="332.69" r="2.2" fill="#fac282"/><circle cx="124.55" cy="332.69" r="2.2" fill="#facd8b"/><circle cx="139.15" cy="332.69" r="2.2" fill="#fad794"/><circle cx="153.75" cy="332.69" r="2.2" fill="#fae4a0"/><circle cx="168.35" cy="332.69" r="2.2" fill="#faeaa5"/><circle cx="182.95" cy="332.69" r="2.2" fill="#faf0aa"/><circle cx="197.55" cy="332.69" r="2.2" fill="#f3f1b0"/><circle cx="212.15" cy="332.69" r="2.2" fill="#e0e6b2"/><circle cx="226.75" cy="332.69" r="2.2" fill="#cddab5"/><circle cx="241.35" cy="332.69" r="2.2" fill="#beceb6"/><circle cx="255.95" cy="332.69" r="2.2" fill="#b1c3b8"/><circle cx="270.55" cy="332.69" r="2.2" fill="#a6bab9"/><circle cx="285.15" cy="332.69" r="2.2" fill="#98b1b9"/><circle cx="299.75" cy="332.69" r="2.2" fill="#8daab9"/><circle cx="314.35" cy="332.69" r="2.2" fill="#87a6b9"/><circle cx="328.95" cy="332.69" r="2.2" fill="#83a2b9"/><circle cx="343.55" cy="332.69" r="2.2" fill="#7e9fb9"/><circle cx="358.15" cy="332.69" r="2.2" fill="#7a9cb9"/><circle cx="372.75" cy="332.69" r="2.2" fill="#759ab9"/><circle cx="387.35" cy="332.69" r="2.2" fill="#7097b8"/><circle cx="401.95" cy="332.69" r="2.2" fill="#6b94b8"/><circle cx="416.55" cy="332.69" r="2.2" fill="#6590b7"/><circle cx="431.15" cy="332.69" r="2.2" fill="#5f8eb7"/><circle cx="445.75" cy="332.69" r="2.2" fill="#5a8ab6"/><circle cx="460.35" cy="332.69" r="2.2" fill="#5488b6"/><circle cx="474.95" cy="332.69" r="2.2" fill="#5186b6"/><circle cx="489.55" cy="332.69" r="2.2" fill="#5186b6"/><circle cx="504.15" cy="332.69" r="2.2" fill="#5186b6"/><circle cx="95.35" cy="345.81" r="2.2" fill="#fac484"/><circle cx="109.95" cy="345.81" r="2.2" fill="#faca89"/><circle cx="124.55" cy="345.81" r="2.2" fill="#fad491"/><circle cx="139.15" cy="345.81" r="2.2" fill="#fadf9c"/><circle cx="153.75" cy="345.81" r="2.2" fill="#faeba6"/><circle cx="168.35" cy="345.81" r="2.2" fill="#faf3ad"/><circle cx="182.95" cy="345.81" r="2.2" fill="#eaecb1"/><circle cx="197.55" cy="345.81" r="2.2" fill="#d9e2b3"/><circle cx="212.15" cy="345.81" r="2.2" fill="#c9d7b5"/><circle cx="226.75" cy="345.81" r="2.2" fill="#b8c9b7"/><circle cx="241.35" cy="345.81" r="2.2" fill="#abbeb9"/><circle cx="255.95" cy="345.81" r="2.2" fill="#a0b7b9"/><circle cx="270.55" cy="345.81" r="2.2" fill="#97b0b9"/><circle cx="285.15" cy="345.81" r="2.2" fill="#8ba8b9"/><circle cx="299.75" cy="345.81" r="2.2" fill="#7fa0b9"/><circle cx="314.35" cy="345.81" r="2.2" fill="#799cb9"/><circle cx="328.95" cy="345.81" r="2.2" fill="#7499b9"/><circle cx="343.55" cy="345.81" r="2.2" fill="#6e96b8"/><circle cx="358.15" cy="345.81" r="2.2" fill="#6993b8"/><circle cx="372.75" cy="345.81" r="2.2" fill="#6591b7"/><circle cx="387.35" cy="345.81" r="2.2" fill="#618fb7"/><circle cx="401.95" cy="345.81" r="2.2" fill="#5e8db7"/><circle cx="416.55" cy="345.81" r="2.2" fill="#5789b6"/><circle cx="431.15" cy="345.81" r="2.2" fill="#5186b6"/><circle cx="445.75" cy="345.81" r="2.2" fill="#4c83b5"/><circle cx="460.35" cy="345.81" r="2.2" fill="#4c83b5"/><circle cx="474.95" cy="345.81" r="2.2" fill="#4680b4"/><circle cx="489.55" cy="345.81" r="2.2" fill="#4680b4"/><circle cx="504.15" cy="345.81" r="2.2" fill="#4680b4"/><circle cx="95.35" cy="358.92" r="2.2" fill="#facd8c"/><circle cx="109.95" cy="358.92" r="2.2" fill="#fad290"/><circle cx="124.55" cy="358.92" r="2.2" fill="#fadb98"/><circle cx="139.15" cy="358.92" r="2.2" fill="#fae7a3"/><circle cx="153.75" cy="358.92" r="2.2" fill="#faf3ae"/><circle cx="168.35" cy="358.92" r="2.2" fill="#e0e6b2"/><circle cx="182.95" cy="358.92" r="2.2" fill="#cddab5"/><circle cx="197.55" cy="358.92" r="2.2" fill="#c0cfb6"/><circle cx="212.15" cy="358.92" r="2.2" fill="#b3c5b8"/><circle cx="226.75" cy="358.92" r="2.2" fill="#a6bbb9"/><circle cx="241.35" cy="358.92" r="2.2" fill="#98b1b9"/><circle cx="255.95" cy="358.92" r="2.2" fill="#8daab9"/><circle cx="270.55" cy="358.92" r="2.2" fill="#84a3b9"/><circle cx="285.15" cy="358.92" r="2.2" fill="#7c9eb9"/><circle cx="299.75" cy="358.92" r="2.2" fill="#7096b8"/><circle cx="314.35" cy="358.92" r="2.2" fill="#6993b8"/><circle cx="328.95" cy="358.92" r="2.2" fill="#6390b7"/><circle cx="343.55" cy="358.92" r="2.2" fill="#5e8db7"/><circle cx="358.15" cy="358.92" r="2.2" fill="#5c8cb6"/><circle cx="372.75" cy="358.92" r="2.2" fill="#5a8bb6"/><circle cx="387.35" cy="358.92" r="2.2" fill="#5689b6"/><circle cx="401.95" cy="358.92" r="2.2" fill="#5387b6"/><circle cx="416.55" cy="358.92" r="2.2" fill="#4c83b5"/><circle cx="431.15" cy="358.92" r="2.2" fill="#4680b4"/><circle cx="445.75" cy="358.92" r="2.2" fill="#417db4"/><circle cx="460.35" cy="358.92" r="2.2" fill="#417db4"/><circle cx="474.95" cy="358.92" r="2.2" fill="#417db4"/><circle cx="489.55" cy="358.92" r="2.2" fill="#417db4"/><circle cx="504.15" cy="358.92" r="2.2" fill="#417db4"/><circle cx="95.35" cy="372.04" r="2.2" fill="#fad290"/><circle cx="109.95" cy="372.04" r="2.2" fill="#fad794"/><circle cx="124.55" cy="372.04" r="2.2" fill="#fadf9c"/><circle cx="139.15" cy="372.04" r="2.2" fill="#faeda8"/><circle cx="153.75" cy="372.04" r="2.2" fill="#faf1ac"/><circle cx="168.35" cy="372.04" r="2.2" fill="#c3d2b6"/><circle cx="182.95" cy="372.04" r="2.2" fill="#afc1b8"/><circle cx="197.55" cy="372.04" r="2.2" fill="#9fb6b9"/><circle cx="212.15" cy="372.04" r="2.2" fill="#94aeb9"/><circle cx="226.75" cy="372.04" r="2.2" fill="#8aa8b9"/><circle cx="241.35" cy="372.04" r="2.2" fill="#81a1b9"/><circle cx="255.95" cy="372.04" r="2.2" fill="#7a9cb9"/><circle cx="270.55" cy="372.04" r="2.2" fill="#7599b9"/><circle cx="285.15" cy="372.04" r="2.2" fill="#6e95b8"/><circle cx="299.75" cy="372.04" r="2.2" fill="#6591b7"/><circle cx="314.35" cy="372.04" r="2.2" fill="#5f8db7"/><circle cx="328.95" cy="372.04" r="2.2" fill="#598ab6"/><circle cx="343.55" cy="372.04" r="2.2" fill="#5487b6"/><circle cx="358.15" cy="372.04" r="2.2" fill="#5186b6"/><circle cx="372.75" cy="372.04" r="2.2" fill="#5085b5"/><circle cx="387.35" cy="372.04" r="2.2" fill="#4b83b5"/><circle cx="401.95" cy="372.04" r="2.2" fill="#4881b5"/><circle cx="416.55" cy="372.04" r="2.2" fill="#417db4"/><circle cx="431.15" cy="372.04" r="2.2" fill="#417db4"/><circle cx="445.75" cy="372.04" r="2.2" fill="#3d79b1"/><circle cx="460.35" cy="372.04" r="2.2" fill="#3d79b1"/><circle cx="474.95" cy="372.04" r="2.2" fill="#3975ae"/><circle cx="489.55" cy="372.04" r="2.2" fill="#3975ae"/><circle cx="504.15" cy="372.04" r="2.2" fill="#3975ae"/><circle cx="95.35" cy="385.15" r="2.2" fill="#fad996"/><circle cx="109.95" cy="385.15" r="2.2" fill="#fade9a"/><circle cx="124.55" cy="385.15" r="2.2" fill="#fae6a2"/><circle cx="139.15" cy="385.15" r="2.2" fill="#faf0aa"/><circle cx="153.75" cy="385.15" r="2.2" fill="#c5d3b6"/><circle cx="168.35" cy="385.15" r="2.2" fill="#a8bcb9"/><circle cx="182.95" cy="385.15" r="2.2" fill="#93adb9"/><circle cx="197.55" cy="385.15" r="2.2" fill="#84a3b9"/><circle cx="212.15" cy="385.15" r="2.2" fill="#7b9db9"/><circle cx="226.75" cy="385.15" r="2.2" fill="#7499b9"/><circle cx="241.35" cy="385.15" r="2.2" fill="#6b94b8"/><circle cx="255.95" cy="385.15" r="2.2" fill="#6591b7"/><circle cx="270.55" cy="385.15" r="2.2" fill="#608eb7"/><circle cx="285.15" cy="385.15" r="2.2" fill="#5b8bb6"/><circle cx="299.75" cy="385.15" r="2.2" fill="#5689b6"/><circle cx="314.35" cy="385.15" r="2.2" fill="#4f85b5"/><circle cx="328.95" cy="385.15" r="2.2" fill="#4a82b5"/><circle cx="343.55" cy="385.15" r="2.2" fill="#4680b4"/><circle cx="358.15" cy="385.15" r="2.2" fill="#457fb4"/><circle cx="372.75" cy="385.15" r="2.2" fill="#417db4"/><circle cx="387.35" cy="385.15" r="2.2" fill="#417db4"/><circle cx="401.95" cy="385.15" r="2.2" fill="#3f7bb2"/><circle cx="416.55" cy="385.15" r="2.2" fill="#3975ae"/><circle cx="431.15" cy="385.15" r="2.2" fill="#3975ae"/><circle cx="445.75" cy="385.15" r="2.2" fill="#3571ab"/><circle cx="460.35" cy="385.15" r="2.2" fill="#3571ab"/><circle cx="474.95" cy="385.15" r="2.2" fill="#3571ab"/><circle cx="489.55" cy="385.15" r="2.2" fill="#3571ab"/><circle cx="504.15" cy="385.15" r="2.2" fill="#3571ab"/><circle cx="95.35" cy="398.26" r="2.2" fill="#fade9a"/><circle cx="109.95" cy="398.26" r="2.2" fill="#fae29e"/><circle cx="124.55" cy="398.26" r="2.2" fill="#faefa9"/><circle cx="139.15" cy="398.26" r="2.2" fill="#cbd9b5"/><circle cx="153.75" cy="398.26" r="2.2" fill="#99b1b9"/><circle cx="168.35" cy="398.26" r="2.2" fill="#80a0b9"/><circle cx="182.95" cy="398.26" r="2.2" fill="#759ab9"/><circle cx="197.55" cy="398.26" r="2.2" fill="#6993b8"/><circle cx="212.15" cy="398.26" r="2.2" fill="#618eb7"/><circle cx="226.75" cy="398.26" r="2.2" fill="#5b8bb6"/><circle cx="241.35" cy="398.26" r="2.2" fill="#5688b6"/><circle cx="255.95" cy="398.26" r="2.2" fill="#5085b5"/><circle cx="270.55" cy="398.26" r="2.2" fill="#4c83b5"/><circle cx="285.15" cy="398.26" r="2.2" fill="#4b83b5"/><circle cx="299.75" cy="398.26" r="2.2" fill="#4881b5"/><circle cx="314.35" cy="398.26" r="2.2" fill="#417db4"/><circle cx="328.95" cy="398.26" r="2.2" fill="#407cb3"/><circle cx="343.55" cy="398.26" r="2.2" fill="#3d79b1"/><circle cx="358.15" cy="398.26" r="2.2" fill="#3c78b1"/><circle cx="372.75" cy="398.26" r="2.2" fill="#3975ae"/><circle cx="387.35" cy="398.26" r="2.2" fill="#3975ae"/><circle cx="401.95" cy="398.26" r="2.2" fill="#3773ac"/><circle cx="416.55" cy="398.26" r="2.2" fill="#3571ab"/><circle cx="431.15" cy="398.26" r="2.2" fill="#316da8"/><circle cx="445.75" cy="398.26" r="2.2" fill="#316da8"/><circle cx="460.35" cy="398.26" r="2.2" fill="#316da8"/><circle cx="474.95" cy="398.26" r="2.2" fill="#316da8"/><circle cx="489.55" cy="398.26" r="2.2" fill="#316da8"/><circle cx="504.15" cy="398.26" r="2.2" fill="#316da8"/><circle cx="95.35" cy="411.38" r="2.2" fill="#fae5a0"/><circle cx="109.95" cy="411.38" r="2.2" fill="#faf0ab"/><circle cx="124.55" cy="411.38" r="2.2" fill="#90acb9"/><circle cx="139.15" cy="411.38" r="2.2" fill="#789bb9"/><circle cx="153.75" cy="411.38" r="2.2" fill="#628fb7"/><circle cx="168.35" cy="411.38" r="2.2" fill="#5186b6"/><circle cx="182.95" cy="411.38" r="2.2" fill="#4680b4"/><circle cx="197.55" cy="411.38" r="2.2" fill="#417db4"/><circle cx="212.15" cy="411.38" r="2.2" fill="#417db4"/><circle cx="226.75" cy="411.38" r="2.2" fill="#417db4"/><circle cx="241.35" cy="411.38" r="2.2" fill="#417db4"/><circle cx="255.95" cy="411.38" r="2.2" fill="#417db4"/><circle cx="270.55" cy="411.38" r="2.2" fill="#417db4"/><circle cx="285.15" cy="411.38" r="2.2" fill="#3d79b1"/><circle cx="299.75" cy="411.38" r="2.2" fill="#3975ae"/><circle cx="314.35" cy="411.38" r="2.2" fill="#3571ab"/><circle cx="328.95" cy="411.38" r="2.2" fill="#3571ab"/><circle cx="343.55" cy="411.38" r="2.2" fill="#316da8"/><circle cx="358.15" cy="411.38" r="2.2" fill="#316da8"/><circle cx="372.75" cy="411.38" r="2.2" fill="#316da8"/><circle cx="387.35" cy="411.38" r="2.2" fill="#316da8"/><circle cx="401.95" cy="411.38" r="2.2" fill="#2f6ba6"/><circle cx="416.55" cy="411.38" r="2.2" fill="#2d69a5"/><circle cx="431.15" cy="411.38" r="2.2" fill="#2d69a5"/><circle cx="445.75" cy="411.38" r="2.2" fill="#2d69a5"/><circle cx="460.35" cy="411.38" r="2.2" fill="#2d69a5"/><circle cx="474.95" cy="411.38" r="2.2" fill="#2d69a5"/><circle cx="489.55" cy="411.38" r="2.2" fill="#2d69a5"/><circle cx="504.15" cy="411.38" r="2.2" fill="#2d69a5"/><circle cx="95.35" cy="424.49" r="2.2" fill="#faf3ad"/><circle cx="109.95" cy="424.49" r="2.2" fill="#195596"/><circle cx="124.55" cy="424.49" r="2.2" fill="#195596"/><circle cx="139.15" cy="424.49" r="2.2" fill="#195596"/><circle cx="153.75" cy="424.49" r="2.2" fill="#195596"/><circle cx="168.35" cy="424.49" r="2.2" fill="#195596"/><circle cx="182.95" cy="424.49" r="2.2" fill="#195596"/><circle cx="197.55" cy="424.49" r="2.2" fill="#195596"/><circle cx="212.15" cy="424.49" r="2.2" fill="#195596"/><circle cx="226.75" cy="424.49" r="2.2" fill="#195596"/><circle cx="241.35" cy="424.49" r="2.2" fill="#195596"/><circle cx="255.95" cy="424.49" r="2.2" fill="#195596"/><circle cx="270.55" cy="424.49" r="2.2" fill="#195596"/><circle cx="285.15" cy="424.49" r="2.2" fill="#195596"/><circle cx="299.75" cy="424.49" r="2.2" fill="#195596"/><circle cx="314.35" cy="424.49" r="2.2" fill="#195596"/><circle cx="328.95" cy="424.49" r="2.2" fill="#195596"/><circle cx="343.55" cy="424.49" r="2.2" fill="#195596"/><circle cx="358.15" cy="424.49" r="2.2" fill="#195596"/><circle cx="372.75" cy="424.49" r="2.2" fill="#195596"/><circle cx="387.35" cy="424.49" r="2.2" fill="#195596"/><circle cx="401.95" cy="424.49" r="2.2" fill="#195596"/><circle cx="416.55" cy="424.49" r="2.2" fill="#195596"/><circle cx="431.15" cy="424.49" r="2.2" fill="#195596"/><circle cx="445.75" cy="424.49" r="2.2" fill="#195596"/><circle cx="460.35" cy="424.49" r="2.2" fill="#195596"/><circle cx="474.95" cy="424.49" r="2.2" fill="#195596"/><circle cx="489.55" cy="424.49" r="2.2" fill="#195596"/><circle cx="504.15" cy="424.49" r="2.2" fill="#195596"/></g>
<g stroke="#262626" stroke-width="1.0" fill="none"><path d="M95.35 57.30L101.00 62.38"/><path d="M109.95 57.30L115.56 62.34"/><path d="M124.55 57.30L130.12 62.30"/><path d="M139.15 57.30L144.68 62.27"/><path d="M153.75 57.30L159.23 62.23"/><path d="M168.35 57.30L173.79 62.19"/><path d="M182.95 57.30L188.35 62.15"/><path d="M197.55 57.30L203.05 62.25"/><path d="M212.15 57.30L217.80 62.38"/><path d="M226.75 57.30L232.40 62.38"/><path d="M241.35 57.30L247.00 62.38"/><path d="M255.95 57.30L261.60 62.38"/><path d="M270.55 57.30L276.20 62.38"/><path d="M285.15 57.30L290.80 62.38"/><path d="M299.75 57.30L305.40 62.38"/><path d="M314.35 57.30L320.00 62.38"/><path d="M328.95 57.30L334.60 62.38"/><path d="M343.55 57.30L349.20 62.38"/><path d="M358.15 57.30L363.80 62.38"/><path d="M372.75 57.30L378.40 62.38"/><path d="M387.35 57.30L393.00 62.38"/><path d="M401.95 57.30L407.60 62.38"/><path d="M416.55 57.30L422.20 62.38"/><path d="M431.15 57.30L436.80 62.38"/><path d="M445.75 57.30L451.40 62.38"/><path d="M460.35 57.30L465.58 62.00"/><path d="M474.95 57.30L479.56 61.44"/><path d="M489.55 57.30L493.54 60.89"/><path d="M504.15 57.30L506.14 59.09"/><path d="M95.35 70.41L100.90 75.40"/><path d="M109.95 70.41L115.45 75.36"/><path d="M124.55 70.41L130.01 75.32"/><path d="M139.15 70.41L144.57 75.28"/><path d="M153.75 70.41L159.13 75.25"/><path d="M168.35 70.41L173.69 75.21"/><path d="M182.95 70.41L188.24 75.17"/><path d="M197.55 70.41L202.95 75.27"/><path d="M212.15 70.41L217.68 75.38"/><path d="M226.75 70.41L232.27 75.37"/><path d="M241.35 70.41L246.85 75.36"/><path d="M255.95 70.41L261.44 75.34"/><path d="M270.55 70.41L276.02 75.33"/><path d="M285.15 70.41L290.61 75.32"/><path d="M299.75 70.41L305.19 75.30"/><path d="M314.35 70.41L319.79 75.30"/><path d="M328.95 70.41L334.39 75.30"/><path d="M343.55 70.41L348.99 75.30"/><path d="M358.15 70.41L363.59 75.30"/><path d="M372.75 70.41L378.19 75.30"/><path d="M387.35 70.41L392.58 75.11"/><path d="M401.95 70.41L407.08 75.02"/><path d="M416.55 70.41L421.16 74.55"/><path d="M431.15 70.41L435.35 74.18"/><path d="M445.75 70.41L449.42 73.71"/><path d="M460.35 70.41L463.79 73.50"/><path d="M474.95 70.41L477.48 72.68"/><path d="M489.55 70.41L490.58 71.34"/><path d="M95.35 83.53L100.79 88.42"/><path d="M109.95 83.53L115.35 88.38"/><path d="M124.55 83.53L129.91 88.34"/><path d="M139.15 83.53L144.41 88.26"/><path d="M153.75 83.53L158.92 88.17"/><path d="M168.35 83.53L173.42 88.09"/><path d="M182.95 83.53L187.93 88.00"/><path d="M197.55 83.53L202.63 88.10"/><path d="M212.15 83.53L217.35 88.20"/><path d="M226.75 83.53L231.92 88.17"/><path d="M241.35 83.53L246.49 88.15"/><path d="M255.95 83.53L261.06 88.12"/><path d="M270.55 83.53L275.63 88.09"/><path d="M285.15 83.53L290.20 88.07"/><path d="M299.75 83.53L304.67 87.95"/><path d="M314.35 83.53L319.16 87.85"/><path d="M328.95 83.53L333.76 87.85"/><path d="M343.55 83.53L348.36 87.85"/><path d="M358.15 83.53L362.76 87.67"/><path d="M372.75 83.53L377.15 87.48"/><path d="M387.35 83.53L391.75 87.48"/><path d="M401.95 83.53L406.15 87.30"/><path d="M416.55 83.53L420.22 86.83"/><path d="M431.15 83.53L434.24 86.30"/><path d="M445.75 83.53L448.50 86.00"/><path d="M460.35 83.53L462.66 85.60"/><path d="M474.95 83.53L475.56 84.07"/><path d="M95.35 96.64L100.69 101.44"/><path d="M109.95 96.64L115.24 101.40"/><path d="M124.55 96.64L129.80 101.36"/><path d="M139.15 96.64L144.25 101.23"/><path d="M153.75 96.64L158.71 101.10"/><path d="M168.35 96.64L173.16 100.97"/><path d="M182.95 96.64L187.62 100.84"/><path d="M197.55 96.64L202.27 100.88"/><path d="M212.15 96.64L216.92 100.93"/><path d="M226.75 96.64L231.47 100.89"/><path d="M241.35 96.64L246.03 100.85"/><path d="M255.95 96.64L260.59 100.81"/><path d="M270.55 96.64L275.14 100.77"/><path d="M285.15 96.64L289.70 100.73"/><path d="M299.75 96.64L304.00 100.46"/><path d="M314.35 96.64L318.34 100.23"/><path d="M328.95 96.64L332.94 100.23"/><path d="M343.55 96.64L347.34 100.05"/><path d="M358.15 96.64L361.82 99.94"/><path d="M372.75 96.64L376.19 99.73"/><path d="M387.35 96.64L390.55 99.52"/><path d="M401.95 96.64L404.81 99.21"/><path d="M416.55 96.64L419.08 98.91"/><path d="M431.15 96.64L433.68 98.91"/><path d="M445.75 96.64L447.54 98.25"/><path d="M460.35 96.64L460.80 97.05"/><path d="M504.15 96.64L503.80 96.32"/><path d="M95.35 109.76L100.58 114.46"/><path d="M109.95 109.76L115.14 114.42"/><path d="M124.55 109.76L129.70 114.38"/><path d="M139.15 109.76L144.10 114.20"/><path d="M153.75 109.76L158.50 114.02"/><path d="M168.35 109.76L172.90 113.85"/><path d="M182.95 109.76L187.31 113.67"/><path d="M197.55 109.76L201.91 113.67"/><path d="M212.15 109.76L216.49 113.66"/><path d="M226.75 109.76L231.03 113.61"/><path d="M241.35 109.76L245.58 113.55"/><path d="M255.95 109.76L260.12 113.50"/><path d="M270.55 109.76L274.66 113.45"/><path d="M285.15 109.76L289.20 113.40"/><path d="M299.75 109.76L303.48 113.11"/><path d="M314.35 109.76L317.90 112.95"/><path d="M328.95 109.76L332.39 112.84"/><path d="M343.55 109.76L346.87 112.74"/><path d="M358.15 109.76L361.01 112.33"/><path d="M372.75 109.76L375.39 112.13"/><path d="M387.35 109.76L389.55 111.74"/><path d="M401.95 109.76L404.05 111.64"/><path d="M416.55 109.76L418.54 111.55"/><path d="M431.15 109.76L432.64 111.10"/><path d="M445.75 109.76L446.36 110.30"/><path d="M489.55 109.76L489.20 109.44"/><path d="M504.15 109.76L503.65 109.31"/><path d="M95.35 122.87L100.37 127.38"/><path d="M109.95 122.87L114.93 127.34"/><path d="M124.55 122.87L129.49 127.31"/><path d="M139.15 122.87L143.89 127.13"/><path d="M153.75 122.87L158.29 126.95"/><path d="M168.35 122.87L172.70 126.78"/><path d="M182.95 122.87L187.11 126.60"/><path d="M197.55 122.87L201.65 126.56"/><path d="M212.15 122.87L216.17 126.48"/><path d="M226.75 122.87L230.70 126.42"/><path d="M241.35 122.87L245.23 126.36"/><path d="M255.95 122.87L259.76 126.29"/><path d="M270.55 122.87L274.31 126.25"/><path d="M285.15 122.87L288.87 126.21"/><path d="M299.75 122.87L303.13 125.91"/><path d="M314.35 122.87L317.32 125.54"/><path d="M328.95 122.87L331.81 125.44"/><path d="M343.55 122.87L346.52 125.54"/><path d="M358.15 122.87L360.68 125.14"/><path d="M372.75 122.87L374.85 124.76"/><path d="M387.35 122.87L388.84 124.21"/><path d="M401.95 122.87L403.11 123.91"/><path d="M416.55 122.87L417.58 123.79"/><path d="M431.15 122.87L431.60 123.28"/><path d="M474.95 122.87L474.60 122.55"/><path d="M489.55 122.87L489.05 122.42"/><path d="M504.15 122.87L503.52 122.31"/><path d="M95.35 135.98L100.16 140.31"/><path d="M109.95 135.98L114.72 140.27"/><path d="M124.55 135.98L129.28 140.23"/><path d="M139.15 135.98L143.68 140.06"/><path d="M153.75 135.98L158.09 139.88"/><path d="M168.35 135.98L172.50 139.71"/><path d="M182.95 135.98L186.90 139.54"/><path d="M197.55 135.98L201.40 139.45"/><path d="M212.15 135.98L215.89 139.35"/><path d="M226.75 135.98L230.44 139.30"/><path d="M241.35 135.98L244.99 139.25"/><path d="M255.95 135.98L259.54 139.21"/><path d="M270.55 135.98L274.09 139.16"/><path d="M285.15 135.98L288.64 139.12"/><path d="M299.75 135.98L302.78 138.71"/><path d="M314.35 135.98L317.21 138.55"/><path d="M328.95 135.98L331.48 138.25"/><path d="M343.55 135.98L345.75 137.96"/><path d="M358.15 135.98L359.94 137.59"/><path d="M372.75 135.98L374.05 137.15"/><path d="M387.35 135.98L388.12 136.67"/><path d="M401.95 135.98L402.48 136.46"/><path d="M460.35 135.98L460.00 135.67"/><path d="M474.95 135.98L474.39 135.48"/><path d="M489.55 135.98L488.87 135.37"/><path d="M504.15 135.98L503.35 135.27"/><path d="M95.35 149.10L99.70 153.01"/><path d="M109.95 149.10L114.22 152.94"/><path d="M124.55 149.10L128.74 152.86"/><path d="M139.15 149.10L143.11 152.66"/><path d="M153.75 149.10L157.51 152.47"/><path d="M168.35 149.10L171.97 152.35"/><path d="M182.95 149.10L186.44 152.23"/><path d="M197.55 149.10L200.84 152.06"/><path d="M212.15 149.10L215.27 151.90"/><path d="M226.75 149.10L229.78 151.82"/><path d="M241.35 149.10L244.35 151.80"/><path d="M255.95 149.10L258.87 151.72"/><path d="M270.55 149.10L273.38 151.64"/><path d="M285.15 149.10L288.24 151.87"/><path d="M299.75 149.10L302.51 151.58"/><path d="M314.35 149.10L316.66 151.17"/><path d="M328.95 149.10L331.00 150.94"/><path d="M343.55 149.10L345.39 150.75"/><path d="M358.15 149.10L359.69 150.48"/><path d="M372.75 149.10L373.82 150.06"/><path d="M387.35 149.10L387.84 149.54"/><path d="M416.55 149.10L416.09 148.69"/><path d="M431.15 149.10L430.59 148.60"/><path d="M445.75 149.10L445.02 148.44"/><path d="M460.35 149.10L459.47 148.30"/><path d="M474.95 149.10L473.99 148.24"/><path d="M489.55 149.10L488.46 148.11"/><path d="M504.15 149.10L502.99 148.06"/><path d="M95.35 162.21L99.14 165.62"/><path d="M109.95 162.21L113.67 165.56"/><path d="M124.55 162.21L128.21 165.50"/><path d="M139.15 162.21L142.65 165.36"/><path d="M153.75 162.21L157.09 165.22"/><path d="M168.35 162.21L171.54 165.08"/><path d="M182.95 162.21L185.99 164.94"/><path d="M197.55 162.21L200.35 164.73"/><path d="M212.15 162.21L215.12 164.88"/><path d="M226.75 162.21L229.61 164.78"/><path d="M241.35 162.21L244.10 164.68"/><path d="M255.95 162.21L258.59 164.58"/><path d="M270.55 162.21L273.08 164.48"/><path d="M285.15 162.21L287.57 164.38"/><path d="M299.75 162.21L302.06 164.29"/><path d="M314.35 162.21L316.45 164.10"/><path d="M328.95 162.21L330.84 163.91"/><path d="M343.55 162.21L345.24 163.73"/><path d="M358.15 162.21L359.45 163.38"/><path d="M372.75 162.21L373.52 162.90"/><path d="M416.55 162.21L416.00 161.72"/><path d="M431.15 162.21L430.37 161.51"/><path d="M445.75 162.21L444.78 161.34"/><path d="M460.35 162.21L459.20 161.18"/><path d="M474.95 162.21L473.63 161.03"/><path d="M489.55 162.21L488.15 160.96"/><path d="M504.15 162.21L502.68 160.89"/><path d="M95.35 175.33L98.90 178.52"/><path d="M109.95 175.33L113.44 178.46"/><path d="M124.55 175.33L127.97 178.40"/><path d="M139.15 175.33L142.41 178.26"/><path d="M153.75 175.33L156.86 178.12"/><path d="M168.35 175.33L171.31 177.99"/><path d="M182.95 175.33L185.76 177.85"/><path d="M197.55 175.33L200.52 178.00"/><path d="M212.15 175.33L214.90 177.80"/><path d="M226.75 175.33L229.39 177.70"/><path d="M241.35 175.33L243.88 177.60"/><path d="M255.95 175.33L258.37 177.50"/><path d="M270.55 175.33L272.75 177.31"/><path d="M285.15 175.33L287.25 177.21"/><path d="M299.75 175.33L301.69 177.07"/><path d="M314.35 175.33L316.14 176.93"/><path d="M328.95 175.33L330.44 176.67"/><path d="M343.55 175.33L344.76 176.41"/><path d="M358.15 175.33L358.92 176.02"/><path d="M401.95 175.33L401.40 174.83"/><path d="M416.55 175.33L415.65 174.52"/><path d="M431.15 175.33L430.03 174.32"/><path d="M445.75 175.33L444.42 174.13"/><path d="M460.35 175.33L458.83 173.96"/><path d="M474.95 175.33L473.34 173.88"/><path d="M489.55 175.33L487.76 173.72"/><path d="M504.15 175.33L502.28 173.64"/><path d="M95.35 188.44L98.67 191.42"/><path d="M109.95 188.44L113.20 191.36"/><path d="M124.55 188.44L127.73 191.30"/><path d="M139.15 188.44L142.26 191.24"/><path d="M153.75 188.44L156.79 191.17"/><path d="M168.35 188.44L171.33 191.11"/><path d="M182.95 188.44L185.84 191.04"/><path d="M197.55 188.44L200.25 190.87"/><path d="M212.15 188.44L214.66 190.69"/><path d="M226.75 188.44L229.15 190.59"/><path d="M241.35 188.44L243.62 190.48"/><path d="M255.95 188.44L258.01 190.29"/><path d="M270.55 188.44L272.40 190.10"/><path d="M285.15 188.44L286.82 189.94"/><path d="M299.75 188.44L301.30 189.83"/><path d="M314.35 188.44L315.69 189.64"/><path d="M328.95 188.44L329.96 189.35"/><path d="M343.55 188.44L344.06 188.90"/><path d="M372.75 188.44L372.33 188.06"/><path d="M387.35 188.44L386.46 187.64"/><path d="M401.95 188.44L400.87 187.47"/><path d="M416.55 188.44L415.28 187.30"/><path d="M431.15 188.44L429.65 187.09"/><path d="M445.75 188.44L444.04 186.90"/><path d="M460.35 188.44L458.43 186.72"/><path d="M474.95 188.44L472.94 186.63"/><path d="M489.55 188.44L487.44 186.55"/><path d="M504.15 188.44L501.95 186.46"/><path d="M95.35 201.55L98.44 204.33"/><path d="M109.95 201.55L112.97 204.27"/><path d="M124.55 201.55L127.50 204.20"/><path d="M139.15 201.55L142.03 204.14"/><path d="M153.75 201.55L156.55 204.07"/><path d="M168.35 201.55L171.09 204.01"/><path d="M182.95 201.55L185.60 203.94"/><path d="M197.55 201.55L200.07 203.81"/><path d="M212.15 201.55L214.48 203.65"/><path d="M226.75 201.55L228.87 203.46"/><path d="M241.35 201.55L243.26 203.27"/><path d="M255.95 201.55L257.62 203.05"/><path d="M270.55 201.55L271.93 202.79"/><path d="M285.15 201.55L286.32 202.61"/><path d="M299.75 201.55L300.83 202.52"/><path d="M314.35 201.55L315.17 202.29"/><path d="M328.95 201.55L329.30 201.87"/><path d="M358.15 201.55L357.68 201.13"/><path d="M372.75 201.55L371.64 200.56"/><path d="M387.35 201.55L385.95 200.29"/><path d="M401.95 201.55L400.45 200.21"/><path d="M416.55 201.55L415.05 200.21"/><path d="M431.15 201.55L429.44 200.02"/><path d="M445.75 201.55L443.83 199.83"/><path d="M460.35 201.55L458.34 199.75"/><path d="M474.95 201.55L472.84 199.66"/><path d="M489.55 201.55L487.35 199.58"/><path d="M504.15 201.55L501.86 199.49"/><path d="M95.35 214.67L98.21 217.24"/><path d="M109.95 214.67L112.75 217.18"/><path d="M124.55 214.67L127.27 217.11"/><path d="M139.15 214.67L141.79 217.04"/><path d="M153.75 214.67L156.32 216.98"/><path d="M168.35 214.67L170.86 216.92"/><path d="M182.95 214.67L185.36 216.83"/><path d="M197.55 214.67L199.82 216.71"/><path d="M212.15 214.67L214.23 216.53"/><path d="M226.75 214.67L228.62 216.35"/><path d="M241.35 214.67L242.96 216.11"/><path d="M255.95 214.67L257.27 215.85"/><path d="M270.55 214.67L271.54 215.56"/><path d="M285.15 214.67L285.90 215.34"/><path d="M299.75 214.67L300.34 215.20"/><path d="M314.35 214.67L314.62 214.91"/><path d="M343.55 214.67L342.93 214.11"/><path d="M358.15 214.67L357.02 213.65"/><path d="M372.75 214.67L371.24 213.31"/><path d="M387.35 214.67L385.61 213.11"/><path d="M401.95 214.67L400.13 213.04"/><path d="M416.55 214.67L414.73 213.04"/><path d="M431.15 214.67L429.23 212.95"/><path d="M445.75 214.67L443.74 212.86"/><path d="M460.35 214.67L458.24 212.77"/><path d="M474.95 214.67L472.75 212.69"/><path d="M489.55 214.67L487.26 212.61"/><path d="M504.15 214.67L501.77 212.53"/><path d="M95.35 227.78L97.99 230.15"/><path d="M109.95 227.78L112.52 230.10"/><path d="M124.55 227.78L127.04 230.02"/><path d="M139.15 227.78L141.57 229.95"/><path d="M153.75 227.78L156.09 229.88"/><path d="M168.35 227.78L170.63 229.83"/><path d="M182.95 227.78L185.12 229.73"/><path d="M197.55 227.78L199.57 229.60"/><path d="M212.15 227.78L213.98 229.43"/><path d="M226.75 227.78L228.30 229.17"/><path d="M241.35 227.78L242.61 228.92"/><path d="M255.95 227.78L256.87 228.61"/><path d="M270.55 227.78L271.14 228.31"/><path d="M285.15 227.78L285.53 228.12"/><path d="M328.95 227.78L328.20 227.11"/><path d="M343.55 227.78L342.26 226.62"/><path d="M358.15 227.78L356.55 226.35"/><path d="M372.75 227.78L370.89 226.11"/><path d="M387.35 227.78L385.32 225.96"/><path d="M401.95 227.78L399.90 225.94"/><path d="M416.55 227.78L414.54 225.97"/><path d="M431.15 227.78L429.04 225.89"/><path d="M445.75 227.78L443.55 225.80"/><path d="M460.35 227.78L458.06 225.72"/><path d="M474.95 227.78L472.57 225.64"/><path d="M489.55 227.78L487.17 225.64"/><path d="M504.15 227.78L501.68 225.56"/><path d="M95.35 240.90L97.66 242.97"/><path d="M109.95 240.90L112.22 242.94"/><path d="M124.55 240.90L126.71 242.83"/><path d="M139.15 240.90L141.19 242.73"/><path d="M153.75 240.90L155.72 242.67"/><path d="M168.35 240.90L170.24 242.60"/><path d="M182.95 240.90L184.78 242.54"/><path d="M197.55 240.90L199.26 242.44"/><path d="M212.15 240.90L213.68 242.27"/><path d="M226.75 240.90L228.01 242.03"/><path d="M241.35 240.90L242.31 241.75"/><path d="M255.95 240.90L256.61 241.49"/><path d="M270.55 240.90L270.89 241.20"/><path d="M314.35 240.90L313.51 240.14"/><path d="M328.95 240.90L327.65 239.73"/><path d="M343.55 240.90L341.94 239.45"/><path d="M358.15 240.90L356.29 239.23"/><path d="M372.75 240.90L370.67 239.03"/><path d="M387.35 240.90L385.11 238.88"/><path d="M401.95 240.90L399.63 238.81"/><path d="M416.55 240.90L414.21 238.80"/><path d="M431.15 240.90L428.72 238.72"/><path d="M445.75 240.90L443.24 238.64"/><path d="M460.35 240.90L457.75 238.56"/><path d="M474.95 240.90L472.31 238.52"/><path d="M489.55 240.90L486.87 238.48"/><path d="M504.15 240.90L501.43 238.45"/><path d="M95.35 254.01L97.45 255.90"/><path d="M109.95 254.01L112.05 255.90"/><path d="M124.55 254.01L126.52 255.78"/><path d="M139.15 254.01L140.99 255.66"/><path d="M153.75 254.01L155.46 255.55"/><path d="M168.35 254.01L169.96 255.46"/><path d="M182.95 254.01L184.54 255.44"/><path d="M197.55 254.01L199.14 255.44"/><path d="M212.15 254.01L213.51 255.23"/><path d="M226.75 254.01L227.83 254.98"/><path d="M241.35 254.01L242.04 254.63"/><path d="M255.95 254.01L256.32 254.34"/><path d="M299.75 254.01L298.74 253.10"/><path d="M314.35 254.01L312.92 252.73"/><path d="M328.95 254.01L327.20 252.43"/><path d="M343.55 254.01L341.58 252.24"/><path d="M358.15 254.01L356.02 252.09"/><path d="M372.75 254.01L370.46 251.95"/><path d="M387.35 254.01L384.91 251.82"/><path d="M401.95 254.01L399.38 251.70"/><path d="M416.55 254.01L413.91 251.64"/><path d="M431.15 254.01L428.43 251.56"/><path d="M445.75 254.01L442.94 251.49"/><path d="M460.35 254.01L457.46 251.41"/><path d="M474.95 254.01L471.98 251.34"/><path d="M489.55 254.01L486.58 251.34"/><path d="M504.15 254.01L501.18 251.34"/><path d="M95.35 267.12L97.34 268.92"/><path d="M109.95 267.12L111.94 268.92"/><path d="M124.55 267.12L126.41 268.80"/><path d="M139.15 267.12L140.89 268.68"/><path d="M153.75 267.12L155.28 268.50"/><path d="M168.35 267.12L169.76 268.40"/><path d="M182.95 267.12L184.35 268.38"/><path d="M197.55 267.12L198.95 268.38"/><path d="M212.15 267.12L213.25 268.11"/><path d="M226.75 267.12L227.50 267.80"/><path d="M241.35 267.12L241.73 267.47"/><path d="M270.55 267.12L270.16 266.78"/><path d="M285.15 267.12L284.17 266.24"/><path d="M299.75 267.12L298.33 265.85"/><path d="M314.35 267.12L312.60 265.55"/><path d="M328.95 267.12L326.98 265.35"/><path d="M343.55 267.12L341.39 265.18"/><path d="M358.15 267.12L355.83 265.04"/><path d="M372.75 267.12L370.28 264.91"/><path d="M387.35 267.12L384.74 264.78"/><path d="M401.95 267.12L399.21 264.66"/><path d="M416.55 267.12L413.74 264.60"/><path d="M431.15 267.12L428.26 264.53"/><path d="M445.75 267.12L442.78 264.46"/><path d="M460.35 267.12L457.30 264.39"/><path d="M474.95 267.12L471.82 264.32"/><path d="M489.55 267.12L486.42 264.32"/><path d="M504.15 267.12L501.02 264.32"/><path d="M95.35 280.24L97.12 281.83"/><path d="M109.95 280.24L111.72 281.83"/><path d="M124.55 280.24L126.17 281.70"/><path d="M139.15 280.24L140.60 281.54"/><path d="M153.75 280.24L155.03 281.39"/><path d="M168.35 280.24L169.47 281.24"/><path d="M182.95 280.24L184.08 281.26"/><path d="M197.55 280.24L198.67 281.25"/><path d="M212.15 280.24L212.99 280.99"/><path d="M226.75 280.24L227.15 280.59"/><path d="M255.95 280.24L255.37 279.71"/><path d="M270.55 280.24L269.38 279.19"/><path d="M285.15 280.24L283.61 278.85"/><path d="M299.75 280.24L297.98 278.64"/><path d="M314.35 280.24L312.30 278.39"/><path d="M328.95 280.24L326.69 278.21"/><path d="M343.55 280.24L341.12 278.05"/><path d="M358.15 280.24L355.57 277.92"/><path d="M372.75 280.24L370.07 277.83"/><path d="M387.35 280.24L384.57 277.74"/><path d="M401.95 280.24L399.05 277.63"/><path d="M416.55 280.24L413.58 277.57"/><path d="M431.15 280.24L428.10 277.50"/><path d="M445.75 280.24L442.62 277.43"/><path d="M460.35 280.24L457.15 277.36"/><path d="M474.95 280.24L471.67 277.29"/><path d="M489.55 280.24L486.27 277.29"/><path d="M504.15 280.24L500.87 277.29"/><path d="M95.35 293.35L96.91 294.75"/><path d="M109.95 293.35L111.51 294.75"/><path d="M124.55 293.35L125.98 294.63"/><path d="M139.15 293.35L140.38 294.46"/><path d="M153.75 293.35L154.81 294.30"/><path d="M168.35 293.35L169.27 294.18"/><path d="M182.95 293.35L183.83 294.14"/><path d="M197.55 293.35L198.34 294.06"/><path d="M212.15 293.35L212.60 293.76"/><path d="M241.35 293.35L240.80 292.86"/><path d="M255.95 293.35L254.78 292.30"/><path d="M270.55 293.35L268.92 291.89"/><path d="M285.15 293.35L283.20 291.60"/><path d="M299.75 293.35L297.59 291.41"/><path d="M314.35 293.35L312.00 291.24"/><path d="M328.95 293.35L326.43 291.09"/><path d="M343.55 293.35L340.86 290.93"/><path d="M358.15 293.35L355.37 290.86"/><path d="M372.75 293.35L369.90 290.79"/><path d="M387.35 293.35L384.41 290.71"/><path d="M401.95 293.35L398.89 290.60"/><path d="M416.55 293.35L413.42 290.54"/><path d="M431.15 293.35L427.95 290.47"/><path d="M445.75 293.35L442.47 290.41"/><path d="M460.35 293.35L457.00 290.34"/><path d="M474.95 293.35L471.52 290.27"/><path d="M489.55 293.35L486.12 290.27"/><path d="M504.15 293.35L500.72 290.27"/><path d="M95.35 306.47L96.72 307.69"/><path d="M109.95 306.47L111.24 307.62"/><path d="M124.55 306.47L125.72 307.51"/><path d="M139.15 306.47L140.10 307.32"/><path d="M153.75 306.47L154.47 307.11"/><path d="M168.35 306.47L168.93 306.99"/><path d="M182.95 306.47L183.44 306.91"/><path d="M197.55 306.47L197.89 306.77"/><path d="M226.75 306.47L226.36 306.12"/><path d="M241.35 306.47L240.21 305.44"/><path d="M255.95 306.47L254.32 305.00"/><path d="M270.55 306.47L268.52 304.64"/><path d="M285.15 306.47L282.82 304.37"/><path d="M299.75 306.47L297.23 304.20"/><path d="M314.35 306.47L311.73 304.11"/><path d="M328.95 306.47L326.18 303.97"/><path d="M343.55 306.47L340.68 303.88"/><path d="M358.15 306.47L355.21 303.82"/><path d="M372.75 306.47L369.71 303.73"/><path d="M387.35 306.47L384.20 303.64"/><path d="M401.95 306.47L398.74 303.58"/><path d="M416.55 306.47L413.27 303.52"/><path d="M431.15 306.47L427.80 303.45"/><path d="M445.75 306.47L442.32 303.38"/><path d="M460.35 306.47L456.85 303.32"/><path d="M474.95 306.47L471.37 303.25"/><path d="M489.55 306.47L485.97 303.25"/><path d="M504.15 306.47L500.57 303.25"/><path d="M95.35 319.58L96.54 320.65"/><path d="M109.95 319.58L111.07 320.58"/><path d="M124.55 319.58L125.49 320.42"/><path d="M139.15 319.58L139.86 320.22"/><path d="M153.75 319.58L154.23 320.01"/><path d="M168.35 319.58L168.66 319.86"/><path d="M212.15 319.58L211.60 319.09"/><path d="M226.75 319.58L225.58 318.53"/><path d="M241.35 319.58L239.72 318.12"/><path d="M255.95 319.58L253.92 317.75"/><path d="M270.55 319.58L268.22 317.49"/><path d="M285.15 319.58L282.56 317.25"/><path d="M299.75 319.58L296.98 317.09"/><path d="M314.35 319.58L311.48 317.00"/><path d="M328.95 319.58L326.00 316.93"/><path d="M343.55 319.58L340.52 316.86"/><path d="M358.15 319.58L355.00 316.75"/><path d="M372.75 319.58L369.51 316.67"/><path d="M387.35 319.58L384.05 316.61"/><path d="M401.95 319.58L398.58 316.56"/><path d="M416.55 319.58L413.12 316.50"/><path d="M431.15 319.58L427.65 316.43"/><path d="M445.75 319.58L442.17 316.37"/><path d="M460.35 319.58L456.70 316.30"/><path d="M474.95 319.58L471.23 316.24"/><path d="M489.55 319.58L485.83 316.24"/><path d="M504.15 319.58L500.43 316.24"/><path d="M95.35 332.69L96.38 333.62"/><path d="M109.95 332.69L110.88 333.53"/><path d="M124.55 332.69L125.25 333.32"/><path d="M139.15 332.69L139.63 333.13"/><path d="M197.55 332.69L197.05 332.24"/><path d="M212.15 332.69L210.95 331.61"/><path d="M226.75 332.69L225.03 331.15"/><path d="M241.35 332.69L239.26 330.82"/><path d="M255.95 332.69L253.58 330.56"/><path d="M270.55 332.69L267.95 330.36"/><path d="M285.15 332.69L282.31 330.14"/><path d="M299.75 332.69L296.73 329.98"/><path d="M314.35 332.69L311.24 329.90"/><path d="M328.95 332.69L325.76 329.83"/><path d="M343.55 332.69L340.29 329.76"/><path d="M358.15 332.69L354.82 329.70"/><path d="M372.75 332.69L369.36 329.65"/><path d="M387.35 332.69L383.89 329.59"/><path d="M401.95 332.69L398.41 329.52"/><path d="M416.55 332.69L412.94 329.45"/><path d="M431.15 332.69L427.47 329.38"/><path d="M445.75 332.69L442.00 329.32"/><path d="M460.35 332.69L456.50 329.24"/><path d="M474.95 332.69L471.05 329.19"/><path d="M489.55 332.69L485.65 329.19"/><path d="M504.15 332.69L500.25 329.19"/><path d="M95.35 345.81L96.23 346.60"/><path d="M109.95 345.81L110.71 346.49"/><path d="M124.55 345.81L125.10 346.30"/><path d="M139.15 345.81L139.46 346.09"/><path d="M182.95 345.81L182.08 345.03"/><path d="M197.55 345.81L196.14 344.54"/><path d="M212.15 345.81L210.31 344.16"/><path d="M226.75 345.81L224.53 343.81"/><path d="M241.35 345.81L238.85 343.56"/><path d="M255.95 345.81L253.26 343.39"/><path d="M270.55 345.81L267.69 343.24"/><path d="M285.15 345.81L282.10 343.07"/><path d="M299.75 345.81L296.51 342.90"/><path d="M314.35 345.81L311.01 342.81"/><path d="M328.95 345.81L325.54 342.74"/><path d="M343.55 345.81L340.06 342.67"/><path d="M358.15 345.81L354.60 342.62"/><path d="M372.75 345.81L369.14 342.56"/><path d="M387.35 345.81L383.69 342.52"/><path d="M401.95 345.81L398.25 342.48"/><path d="M416.55 345.81L412.76 342.40"/><path d="M431.15 345.81L427.25 342.30"/><path d="M445.75 345.81L441.73 342.19"/><path d="M460.35 345.81L456.33 342.19"/><path d="M474.95 345.81L470.81 342.09"/><path d="M489.55 345.81L485.41 342.09"/><path d="M504.15 345.81L500.01 342.09"/><path d="M95.35 358.92L96.04 359.54"/><path d="M109.95 358.92L110.54 359.45"/><path d="M124.55 358.92L124.95 359.28"/><path d="M168.35 358.92L167.16 357.85"/><path d="M182.95 358.92L181.22 357.36"/><path d="M197.55 358.92L195.50 357.08"/><path d="M212.15 358.92L209.82 356.83"/><path d="M226.75 358.92L224.16 356.59"/><path d="M241.35 358.92L238.51 356.37"/><path d="M255.95 358.92L252.93 356.21"/><path d="M270.55 358.92L267.38 356.07"/><path d="M285.15 358.92L281.86 355.96"/><path d="M299.75 358.92L296.28 355.81"/><path d="M314.35 358.92L310.79 355.72"/><path d="M328.95 358.92L325.32 355.66"/><path d="M343.55 358.92L339.85 355.59"/><path d="M358.15 358.92L354.43 355.58"/><path d="M372.75 358.92L369.00 355.55"/><path d="M387.35 358.92L383.54 355.50"/><path d="M401.95 358.92L398.08 355.44"/><path d="M416.55 358.92L412.53 355.31"/><path d="M431.15 358.92L427.01 355.21"/><path d="M445.75 358.92L441.50 355.10"/><path d="M460.35 358.92L456.10 355.10"/><path d="M474.95 358.92L470.70 355.10"/><path d="M489.55 358.92L485.30 355.10"/><path d="M504.15 358.92L499.90 355.10"/><path d="M95.35 372.04L95.94 372.56"/><path d="M109.95 372.04L110.44 372.47"/><path d="M124.55 372.04L124.86 372.32"/><path d="M168.35 372.04L166.38 370.26"/><path d="M182.95 372.04L180.53 369.86"/><path d="M197.55 372.04L194.84 369.60"/><path d="M212.15 372.04L209.25 369.43"/><path d="M226.75 372.04L223.69 369.28"/><path d="M241.35 372.04L238.13 369.14"/><path d="M255.95 372.04L252.63 369.05"/><path d="M270.55 372.04L267.15 368.98"/><path d="M285.15 372.04L281.65 368.90"/><path d="M299.75 372.04L296.15 368.80"/><path d="M314.35 372.04L310.66 368.72"/><path d="M328.95 372.04L325.19 368.66"/><path d="M343.55 372.04L339.69 368.57"/><path d="M358.15 372.04L354.25 368.53"/><path d="M372.75 372.04L368.80 368.49"/><path d="M387.35 372.04L383.32 368.41"/><path d="M401.95 372.04L397.85 368.35"/><path d="M416.55 372.04L412.30 368.22"/><path d="M431.15 372.04L426.90 368.22"/><path d="M445.75 372.04L441.39 368.12"/><path d="M460.35 372.04L455.99 368.12"/><path d="M474.95 372.04L470.48 368.01"/><path d="M489.55 372.04L485.08 368.01"/><path d="M504.15 372.04L499.68 368.01"/><path d="M95.35 385.15L95.79 385.54"/><path d="M109.95 385.15L110.30 385.46"/><path d="M153.75 385.15L151.81 383.41"/><path d="M168.35 385.15L165.79 382.85"/><path d="M182.95 385.15L180.03 382.53"/><path d="M197.55 385.15L194.39 382.31"/><path d="M212.15 385.15L208.84 382.18"/><path d="M226.75 385.15L223.34 382.08"/><path d="M241.35 385.15L237.82 381.98"/><path d="M255.95 385.15L252.35 381.91"/><path d="M270.55 385.15L266.87 381.85"/><path d="M285.15 385.15L281.42 381.80"/><path d="M299.75 385.15L295.95 381.74"/><path d="M314.35 385.15L310.40 381.60"/><path d="M328.95 385.15L324.88 381.50"/><path d="M343.55 385.15L339.41 381.43"/><path d="M358.15 385.15L353.98 381.40"/><path d="M372.75 385.15L368.50 381.33"/><path d="M387.35 385.15L383.09 381.32"/><path d="M401.95 385.15L397.63 381.27"/><path d="M416.55 385.15L412.08 381.13"/><path d="M431.15 385.15L426.68 381.13"/><path d="M445.75 385.15L441.16 381.03"/><path d="M460.35 385.15L455.76 381.03"/><path d="M474.95 385.15L470.36 381.03"/><path d="M489.55 385.15L484.96 381.03"/><path d="M504.15 385.15L499.56 381.03"/><path d="M95.35 398.26L95.70 398.57"/><path d="M139.15 398.26L137.38 396.67"/><path d="M153.75 398.26L150.93 395.73"/><path d="M168.35 398.26L165.12 395.36"/><path d="M182.95 398.26L179.56 395.22"/><path d="M197.55 398.26L193.99 395.06"/><path d="M212.15 398.26L208.49 394.97"/><path d="M226.75 398.26L223.02 394.91"/><path d="M241.35 398.26L237.54 394.84"/><path d="M255.95 398.26L252.02 394.73"/><path d="M270.55 398.26L266.53 394.65"/><path d="M285.15 398.26L281.12 394.64"/><path d="M299.75 398.26L295.64 394.57"/><path d="M314.35 398.26L310.10 394.45"/><path d="M328.95 398.26L324.68 394.42"/><path d="M343.55 398.26L339.19 394.34"/><path d="M358.15 398.26L353.77 394.33"/><path d="M372.75 398.26L368.28 394.24"/><path d="M387.35 398.26L382.87 394.24"/><path d="M401.95 398.26L397.42 394.19"/><path d="M416.55 398.26L411.96 394.14"/><path d="M431.15 398.26L426.45 394.04"/><path d="M445.75 398.26L441.05 394.04"/><path d="M460.35 398.26L455.65 394.04"/><path d="M474.95 398.26L470.25 394.04"/><path d="M489.55 398.26L484.85 394.04"/><path d="M504.15 398.26L499.45 394.04"/><path d="M124.55 411.38L121.58 408.71"/><path d="M139.15 411.38L135.80 408.36"/><path d="M153.75 411.38L150.10 408.10"/><path d="M168.35 411.38L164.45 407.87"/><path d="M182.95 411.38L178.81 407.66"/><path d="M197.55 411.38L193.30 407.56"/><path d="M212.15 411.38L207.90 407.56"/><path d="M226.75 411.38L222.50 407.56"/><path d="M241.35 411.38L237.10 407.56"/><path d="M255.95 411.38L251.70 407.56"/><path d="M270.55 411.38L266.30 407.56"/><path d="M285.15 411.38L280.79 407.46"/><path d="M299.75 411.38L295.28 407.36"/><path d="M314.35 411.38L309.76 407.26"/><path d="M328.95 411.38L324.36 407.26"/><path d="M343.55 411.38L338.85 407.16"/><path d="M358.15 411.38L353.45 407.16"/><path d="M372.75 411.38L368.05 407.16"/><path d="M387.35 411.38L382.65 407.16"/><path d="M401.95 411.38L397.20 407.11"/><path d="M416.55 411.38L411.74 407.06"/><path d="M431.15 411.38L426.34 407.06"/><path d="M445.75 411.38L440.94 407.06"/><path d="M460.35 411.38L455.54 407.06"/><path d="M474.95 411.38L470.14 407.06"/><path d="M489.55 411.38L484.74 407.06"/><path d="M504.15 411.38L499.34 407.06"/><path d="M109.95 424.49L104.61 419.69"/><path d="M124.55 424.49L119.21 419.69"/><path d="M139.15 424.49L133.81 419.69"/><path d="M153.75 424.49L148.41 419.69"/><path d="M168.35 424.49L163.01 419.69"/><path d="M182.95 424.49L177.61 419.69"/><path d="M197.55 424.49L192.21 419.69"/><path d="M212.15 424.49L206.81 419.69"/><path d="M226.75 424.49L221.41 419.69"/><path d="M241.35 424.49L236.01 419.69"/><path d="M255.95 424.49L250.61 419.69"/><path d="M270.55 424.49L265.21 419.69"/><path d="M285.15 424.49L279.81 419.69"/><path d="M299.75 424.49L294.41 419.69"/><path d="M314.35 424.49L309.01 419.69"/><path d="M328.95 424.49L323.61 419.69"/><path d="M343.55 424.49L338.21 419.69"/><path d="M358.15 424.49L352.81 419.69"/><path d="M372.75 424.49L367.41 419.69"/><path d="M387.35 424.49L382.01 419.69"/><path d="M401.95 424.49L396.61 419.69"/><path d="M416.55 424.49L411.21 419.69"/><path d="M431.15 424.49L425.81 419.69"/><path d="M445.75 424.49L440.41 419.69"/><path d="M460.35 424.49L455.01 419.69"/><path d="M474.95 424.49L469.61 419.69"/><path d="M489.55 424.49L484.21 419.69"/><path d="M504.15 424.49L498.81 419.69"/></g>
<g fill="#111"><polygon points="103.53,64.65 100.43,63.01 100.63,62.05 101.57,61.75"/><polygon points="118.09,64.61 114.99,62.97 115.19,62.01 116.13,61.71"/><polygon points="132.65,64.58 129.55,62.94 129.75,61.97 130.69,61.67"/><polygon points="147.20,64.54 144.11,62.90 144.30,61.93 145.24,61.63"/><polygon points="161.76,64.50 158.66,62.86 158.86,61.89 159.80,61.60"/><polygon points="176.32,64.46 173.22,62.82 173.42,61.86 174.36,61.56"/><polygon points="190.88,64.42 187.78,62.78 187.98,61.82 188.92,61.52"/><polygon points="205.58,64.52 202.49,62.88 202.68,61.91 203.62,61.61"/><polygon points="220.33,64.65 217.23,63.01 217.43,62.05 218.37,61.75"/><polygon points="234.93,64.65 231.83,63.01 232.03,62.05 232.97,61.75"/><polygon points="249.53,64.65 246.43,63.01 246.63,62.05 247.57,61.75"/><polygon points="264.13,64.65 261.03,63.01 261.23,62.05 262.17,61.75"/><polygon points="278.73,64.65 275.63,63.01 275.83,62.05 276.77,61.75"/><polygon points="293.33,64.65 290.23,63.01 290.43,62.05 291.37,61.75"/><polygon points="307.93,64.65 304.83,63.01 305.03,62.05 305.97,61.75"/><polygon points="322.53,64.65 319.43,63.01 319.63,62.05 320.57,61.75"/><polygon points="337.13,64.65 334.03,63.01 334.23,62.05 335.17,61.75"/><polygon points="351.73,64.65 348.63,63.01 348.83,62.05 349.77,61.75"/><polygon points="366.33,64.65 363.23,63.01 363.43,62.05 364.37,61.75"/><polygon points="380.93,64.65 377.83,63.01 378.03,62.05 378.97,61.75"/><polygon points="395.53,64.65 392.43,63.01 392.63,62.05 393.57,61.75"/><polygon points="410.13,64.65 407.03,63.01 407.23,62.05 408.17,61.75"/><polygon points="424.73,64.65 421.63,63.01 421.83,62.05 422.77,61.75"/><polygon points="439.33,64.65 436.23,63.01 436.43,62.05 437.37,61.75"/><polygon points="453.93,64.65 450.83,63.01 451.03,62.05 451.97,61.75"/><polygon points="468.11,64.27 465.01,62.63 465.21,61.67 466.15,61.37"/><polygon points="482.08,63.71 478.99,62.07 479.18,61.10 480.12,60.81"/><polygon points="496.07,63.16 492.98,61.52 493.17,60.55 494.11,60.26"/><polygon points="507.47,60.29 505.58,59.72 505.77,58.76 506.71,58.46"/><polygon points="103.43,77.67 100.33,76.03 100.52,75.06 101.46,74.77"/><polygon points="117.98,77.63 114.89,75.99 115.08,75.03 116.02,74.73"/><polygon points="132.54,77.59 129.44,75.95 129.64,74.99 130.58,74.69"/><polygon points="147.10,77.56 144.00,75.92 144.20,74.95 145.14,74.65"/><polygon points="161.66,77.52 158.56,75.88 158.76,74.91 159.70,74.61"/><polygon points="176.21,77.48 173.12,75.84 173.31,74.87 174.25,74.58"/><polygon points="190.77,77.44 187.67,75.80 187.87,74.84 188.81,74.54"/><polygon points="205.48,77.54 202.38,75.90 202.58,74.93 203.52,74.63"/><polygon points="220.21,77.66 217.11,76.02 217.31,75.05 218.25,74.75"/><polygon points="234.80,77.64 231.70,76.00 231.89,75.04 232.83,74.74"/><polygon points="249.38,77.63 246.28,75.99 246.48,75.02 247.42,74.73"/><polygon points="263.97,77.62 260.87,75.98 261.06,75.01 262.00,74.71"/><polygon points="278.55,77.60 275.45,75.96 275.65,75.00 276.59,74.70"/><polygon points="293.13,77.59 290.04,75.95 290.23,74.98 291.17,74.68"/><polygon points="307.72,77.58 304.62,75.94 304.82,74.97 305.76,74.67"/><polygon points="322.32,77.58 319.22,75.94 319.42,74.97 320.36,74.67"/><polygon points="336.92,77.58 333.82,75.94 334.02,74.97 334.96,74.67"/><polygon points="351.52,77.58 348.42,75.94 348.62,74.97 349.56,74.67"/><polygon points="366.12,77.58 363.02,75.94 363.22,74.97 364.16,74.67"/><polygon points="380.72,77.58 377.62,75.94 377.82,74.97 378.76,74.67"/><polygon points="395.11,77.39 392.01,75.75 392.21,74.78 393.15,74.48"/><polygon points="409.60,77.29 406.51,75.65 406.70,74.69 407.64,74.39"/><polygon points="423.68,76.83 420.59,75.18 420.78,74.22 421.72,73.92"/><polygon points="437.88,76.46 434.78,74.82 434.97,73.85 435.91,73.55"/><polygon points="451.87,75.92 448.85,74.35 449.05,73.38 449.99,73.08"/><polygon points="466.08,75.56 463.22,74.13 463.41,73.17 464.35,72.87"/><polygon points="479.16,74.20 476.91,73.32 477.11,72.35 478.05,72.05"/><polygon points="491.26,71.95 490.01,71.97 490.20,71.00 491.14,70.70"/><polygon points="103.32,90.69 100.22,89.05 100.42,88.08 101.36,87.79"/><polygon points="117.88,90.65 114.78,89.01 114.98,88.05 115.92,87.75"/><polygon points="132.44,90.61 129.34,88.97 129.53,88.01 130.47,87.71"/><polygon points="146.94,90.53 143.84,88.89 144.04,87.92 144.98,87.62"/><polygon points="161.45,90.44 158.35,88.80 158.55,87.84 159.49,87.54"/><polygon points="175.95,90.36 172.85,88.72 173.05,87.75 173.99,87.45"/><polygon points="190.46,90.27 187.36,88.63 187.56,87.67 188.50,87.37"/><polygon points="205.16,90.37 202.07,88.73 202.26,87.76 203.20,87.46"/><polygon points="219.88,90.47 216.78,88.83 216.98,87.87 217.92,87.57"/><polygon points="234.45,90.45 231.35,88.81 231.55,87.84 232.49,87.54"/><polygon points="249.02,90.42 245.92,88.78 246.12,87.81 247.06,87.51"/><polygon points="263.59,90.39 260.49,88.75 260.69,87.79 261.63,87.49"/><polygon points="278.16,90.37 275.06,88.73 275.26,87.76 276.20,87.46"/><polygon points="292.73,90.34 289.63,88.70 289.83,87.73 290.77,87.43"/><polygon points="307.20,90.22 304.10,88.58 304.29,87.61 305.23,87.31"/><polygon points="321.69,90.13 318.59,88.48 318.79,87.52 319.73,87.22"/><polygon points="336.29,90.13 333.19,88.48 333.39,87.52 334.33,87.22"/><polygon points="350.89,90.13 347.79,88.48 347.99,87.52 348.93,87.22"/><polygon points="365.28,89.94 362.19,88.30 362.38,87.33 363.32,87.03"/><polygon points="379.68,89.75 376.58,88.11 376.78,87.15 377.72,86.85"/><polygon points="394.28,89.75 391.18,88.11 391.38,87.15 392.32,86.85"/><polygon points="408.68,89.57 405.58,87.93 405.77,86.96 406.71,86.67"/><polygon points="422.67,89.03 419.65,87.46 419.85,86.49 420.79,86.20"/><polygon points="436.30,88.15 433.67,86.93 433.87,85.97 434.81,85.67"/><polygon points="450.33,87.64 447.93,86.63 448.13,85.66 449.07,85.37"/><polygon points="464.20,86.99 462.09,86.24 462.29,85.27 463.23,84.97"/><polygon points="475.96,84.44 474.99,84.70 475.18,83.74 476.12,83.44"/><polygon points="103.21,103.71 100.12,102.07 100.31,101.10 101.25,100.80"/><polygon points="117.77,103.67 114.67,102.03 114.87,101.06 115.81,100.77"/><polygon points="132.33,103.63 129.23,101.99 129.43,101.03 130.37,100.73"/><polygon points="146.78,103.50 143.69,101.86 143.88,100.89 144.82,100.60"/><polygon points="161.24,103.37 158.14,101.73 158.34,100.76 159.28,100.47"/><polygon points="175.69,103.24 172.59,101.60 172.79,100.63 173.73,100.33"/><polygon points="190.15,103.11 187.05,101.47 187.25,100.50 188.19,100.20"/><polygon points="204.80,103.16 201.70,101.51 201.90,100.55 202.84,100.25"/><polygon points="219.45,103.20 216.35,101.56 216.55,100.59 217.49,100.29"/><polygon points="234.00,103.16 230.91,101.52 231.10,100.55 232.04,100.25"/><polygon points="248.56,103.12 245.46,101.48 245.66,100.51 246.60,100.21"/><polygon points="263.11,103.08 260.02,101.44 260.21,100.47 261.15,100.17"/><polygon points="277.67,103.04 274.57,101.40 274.77,100.43 275.71,100.14"/><polygon points="292.23,103.00 289.13,101.36 289.32,100.39 290.26,100.10"/><polygon points="306.53,102.73 303.43,101.09 303.63,100.12 304.57,99.83"/><polygon points="320.87,102.50 317.78,100.86 317.97,99.90 318.91,99.60"/><polygon points="335.47,102.50 332.38,100.86 332.57,99.90 333.51,99.60"/><polygon points="349.87,102.32 346.77,100.68 346.97,99.72 347.91,99.42"/><polygon points="364.27,102.14 361.25,100.57 361.45,99.61 362.39,99.31"/><polygon points="378.48,101.79 375.62,100.36 375.81,99.40 376.75,99.10"/><polygon points="392.69,101.44 389.98,100.15 390.18,99.19 391.12,98.89"/><polygon points="406.72,100.93 404.24,99.84 404.44,98.88 405.38,98.58"/><polygon points="420.76,100.43 418.51,99.55 418.71,98.58 419.65,98.28"/><polygon points="435.36,100.43 433.11,99.55 433.31,98.58 434.25,98.28"/><polygon points="448.73,99.32 446.97,98.88 447.17,97.92 448.11,97.62"/><polygon points="461.11,97.32 460.24,97.68 460.43,96.72 461.37,96.42"/><polygon points="503.56,96.11 504.36,95.69 504.17,96.66 503.23,96.96"/><polygon points="103.11,116.73 100.01,115.09 100.21,114.12 101.15,113.82"/><polygon points="117.67,116.69 114.57,115.05 114.77,114.08 115.71,113.79"/><polygon points="132.22,116.65 129.13,115.01 129.32,114.05 130.26,113.75"/><polygon points="146.63,116.47 143.53,114.83 143.73,113.87 144.67,113.57"/><polygon points="161.03,116.30 157.93,114.66 158.13,113.69 159.07,113.39"/><polygon points="175.43,116.12 172.34,114.48 172.53,113.51 173.47,113.22"/><polygon points="189.84,115.95 186.74,114.31 186.94,113.34 187.88,113.04"/><polygon points="204.44,115.95 201.34,114.31 201.54,113.34 202.48,113.04"/><polygon points="219.02,115.93 215.92,114.29 216.12,113.32 217.06,113.03"/><polygon points="233.56,115.88 230.47,114.24 230.66,113.27 231.60,112.97"/><polygon points="248.10,115.83 245.01,114.19 245.20,113.22 246.14,112.92"/><polygon points="262.65,115.77 259.55,114.13 259.75,113.17 260.69,112.87"/><polygon points="277.19,115.72 274.09,114.08 274.29,113.11 275.23,112.82"/><polygon points="291.73,115.67 288.63,114.03 288.83,113.06 289.77,112.76"/><polygon points="305.97,115.35 302.91,113.74 303.11,112.78 304.05,112.48"/><polygon points="320.27,115.08 317.34,113.58 317.53,112.62 318.47,112.32"/><polygon points="334.68,114.90 331.82,113.48 332.01,112.51 332.95,112.21"/><polygon points="349.08,114.73 346.30,113.37 346.50,112.40 347.44,112.11"/><polygon points="362.92,114.04 360.44,112.96 360.64,111.99 361.58,111.69"/><polygon points="377.14,113.71 374.82,112.76 375.02,111.79 375.96,111.49"/><polygon points="391.02,113.06 388.99,112.37 389.18,111.40 390.12,111.10"/><polygon points="405.45,112.90 403.48,112.27 403.68,111.31 404.62,111.01"/><polygon points="419.87,112.74 417.98,112.18 418.17,111.21 419.11,110.92"/><polygon points="433.64,111.99 432.07,111.73 432.27,110.76 433.21,110.46"/><polygon points="446.76,110.66 445.79,110.93 445.98,109.97 446.92,109.67"/><polygon points="488.96,109.22 489.76,108.80 489.57,109.77 488.63,110.07"/><polygon points="503.32,109.01 504.22,108.67 504.02,109.64 503.08,109.94"/><polygon points="102.90,129.65 99.80,128.01 100.00,127.05 100.94,126.75"/><polygon points="117.46,129.62 114.36,127.98 114.56,127.01 115.50,126.71"/><polygon points="132.02,129.58 128.92,127.94 129.12,126.97 130.06,126.67"/><polygon points="146.42,129.40 143.32,127.76 143.52,126.80 144.46,126.50"/><polygon points="160.82,129.23 157.73,127.59 157.92,126.62 158.86,126.32"/><polygon points="175.23,129.05 172.13,127.41 172.33,126.44 173.27,126.15"/><polygon points="189.63,128.88 186.54,127.24 186.73,126.27 187.67,125.97"/><polygon points="204.18,128.83 201.09,127.19 201.28,126.22 202.22,125.93"/><polygon points="218.70,128.76 215.60,127.12 215.80,126.15 216.74,125.85"/><polygon points="233.23,128.69 230.13,127.05 230.33,126.09 231.27,125.79"/><polygon points="247.76,128.63 244.66,126.99 244.86,126.02 245.80,125.72"/><polygon points="262.29,128.56 259.19,126.92 259.38,125.96 260.32,125.66"/><polygon points="276.81,128.50 273.74,126.88 273.94,125.91 274.88,125.62"/><polygon points="291.34,128.43 288.30,126.84 288.49,125.87 289.43,125.58"/><polygon points="305.38,127.93 302.56,126.54 302.76,125.57 303.70,125.27"/><polygon points="319.31,127.32 316.76,126.17 316.95,125.21 317.89,124.91"/><polygon points="333.72,127.15 331.24,126.07 331.44,125.11 332.38,124.81"/><polygon points="348.51,127.32 345.96,126.17 346.15,125.21 347.09,124.91"/><polygon points="362.36,126.65 360.11,125.77 360.31,124.81 361.25,124.51"/><polygon points="376.25,126.01 374.28,125.39 374.48,124.42 375.42,124.12"/><polygon points="389.84,125.10 388.27,124.84 388.47,123.88 389.41,123.58"/><polygon points="403.89,124.61 402.54,124.55 402.74,123.58 403.68,123.28"/><polygon points="418.26,124.41 417.01,124.42 417.20,123.46 418.14,123.16"/><polygon points="431.91,123.55 431.04,123.91 431.23,122.94 432.17,122.65"/><polygon points="474.36,122.34 475.16,121.92 474.97,122.89 474.03,123.18"/><polygon points="488.72,122.12 489.62,121.79 489.42,122.76 488.48,123.05"/><polygon points="503.11,121.93 504.09,121.68 503.90,122.64 502.96,122.94"/><polygon points="102.69,142.58 99.59,140.94 99.79,139.97 100.73,139.68"/><polygon points="117.25,142.54 114.15,140.90 114.35,139.94 115.29,139.64"/><polygon points="131.81,142.51 128.71,140.87 128.91,139.90 129.85,139.60"/><polygon points="146.21,142.33 143.12,140.69 143.31,139.72 144.25,139.43"/><polygon points="160.62,142.16 157.52,140.52 157.72,139.55 158.66,139.25"/><polygon points="175.02,141.98 171.93,140.34 172.12,139.37 173.06,139.08"/><polygon points="189.43,141.81 186.34,140.17 186.53,139.20 187.47,138.90"/><polygon points="203.93,141.72 200.83,140.08 201.03,139.11 201.97,138.81"/><polygon points="218.39,141.59 215.32,139.98 215.52,139.01 216.46,138.71"/><polygon points="232.90,141.51 229.87,139.93 230.07,138.97 231.01,138.67"/><polygon points="247.41,141.43 244.42,139.89 244.62,138.92 245.56,138.62"/><polygon points="261.93,141.36 258.97,139.84 259.17,138.87 260.11,138.58"/><polygon points="276.45,141.28 273.52,139.79 273.72,138.83 274.66,138.53"/><polygon points="290.96,141.21 288.07,139.75 288.26,138.78 289.20,138.48"/><polygon points="304.80,140.52 302.21,139.34 302.41,138.37 303.35,138.07"/><polygon points="319.12,140.27 316.64,139.19 316.84,138.22 317.78,137.92"/><polygon points="333.16,139.77 330.91,138.89 331.11,137.92 332.05,137.62"/><polygon points="347.22,139.28 345.19,138.60 345.38,137.63 346.32,137.33"/><polygon points="361.13,138.66 359.37,138.22 359.57,137.26 360.51,136.96"/><polygon points="374.92,137.93 373.48,137.79 373.68,136.82 374.62,136.52"/><polygon points="388.63,137.13 387.55,137.31 387.75,136.34 388.69,136.04"/><polygon points="402.83,136.78 401.91,137.09 402.11,136.12 403.05,135.83"/><polygon points="459.76,135.45 460.56,135.03 460.37,136.00 459.43,136.30"/><polygon points="474.01,135.14 474.95,134.84 474.76,135.81 473.82,136.11"/><polygon points="488.41,134.96 489.43,134.74 489.24,135.70 488.30,136.00"/><polygon points="502.82,134.79 503.92,134.64 503.73,135.60 502.79,135.90"/><polygon points="102.23,155.28 99.13,153.64 99.33,152.67 100.27,152.37"/><polygon points="116.75,155.21 113.65,153.57 113.85,152.60 114.79,152.30"/><polygon points="131.27,155.14 128.17,153.50 128.37,152.53 129.31,152.23"/><polygon points="145.64,154.93 142.54,153.29 142.74,152.32 143.68,152.03"/><polygon points="160.01,154.73 156.94,153.11 157.14,152.14 158.08,151.84"/><polygon points="174.39,154.52 171.40,152.98 171.60,152.02 172.54,151.72"/><polygon points="188.76,154.32 185.87,152.86 186.07,151.90 187.01,151.60"/><polygon points="203.04,154.03 200.27,152.69 200.47,151.72 201.41,151.42"/><polygon points="217.34,153.77 214.70,152.53 214.89,151.56 215.83,151.27"/><polygon points="231.80,153.64 229.21,152.45 229.41,151.49 230.35,151.19"/><polygon points="246.35,153.59 243.78,152.43 243.98,151.46 244.92,151.16"/><polygon points="260.81,153.47 258.30,152.35 258.49,151.38 259.43,151.09"/><polygon points="275.27,153.34 272.81,152.28 273.01,151.31 273.95,151.01"/><polygon points="290.30,153.72 287.67,152.50 287.87,151.54 288.81,151.24"/><polygon points="304.35,153.23 301.94,152.21 302.14,151.25 303.08,150.95"/><polygon points="318.20,152.56 316.09,151.81 316.29,150.84 317.23,150.54"/><polygon points="332.36,152.16 330.43,151.57 330.62,150.60 331.56,150.30"/><polygon points="346.62,151.85 344.82,151.38 345.02,150.42 345.96,150.12"/><polygon points="360.72,151.41 359.12,151.11 359.32,150.15 360.26,149.85"/><polygon points="374.53,150.70 373.25,150.69 373.45,149.73 374.39,149.43"/><polygon points="388.17,149.83 387.27,150.17 387.47,149.20 388.41,148.91"/><polygon points="415.79,148.41 416.66,148.05 416.46,149.02 415.52,149.32"/><polygon points="430.22,148.27 431.16,147.97 430.97,148.93 430.03,149.23"/><polygon points="444.53,148.01 445.59,147.81 445.39,148.78 444.45,149.08"/><polygon points="458.88,147.77 460.03,147.67 459.84,148.64 458.90,148.94"/><polygon points="473.36,147.67 474.56,147.61 474.37,148.57 473.43,148.87"/><polygon points="487.73,147.46 489.02,147.48 488.83,148.45 487.89,148.75"/><polygon points="502.22,147.36 503.56,147.42 503.36,148.39 502.42,148.69"/><polygon points="101.67,167.89 98.57,166.25 98.77,165.29 99.71,164.99"/><polygon points="116.16,167.79 113.11,166.19 113.30,165.22 114.24,164.93"/><polygon points="130.64,167.69 127.64,166.13 127.83,165.16 128.77,164.87"/><polygon points="144.98,167.45 142.08,165.99 142.28,165.02 143.22,164.72"/><polygon points="159.32,167.22 156.53,165.85 156.72,164.88 157.66,164.58"/><polygon points="173.67,166.99 170.97,165.71 171.17,164.74 172.11,164.45"/><polygon points="188.01,166.76 185.42,165.57 185.62,164.61 186.56,164.31"/><polygon points="202.22,166.41 199.79,165.36 199.98,164.40 200.92,164.10"/><polygon points="217.11,166.67 214.56,165.52 214.75,164.55 215.69,164.25"/><polygon points="231.52,166.50 229.04,165.41 229.24,164.45 230.18,164.15"/><polygon points="245.93,166.33 243.53,165.31 243.73,164.35 244.67,164.05"/><polygon points="260.34,166.16 258.02,165.21 258.22,164.25 259.16,163.95"/><polygon points="274.76,166.00 272.51,165.12 272.71,164.15 273.65,163.85"/><polygon points="289.18,165.83 287.00,165.02 287.20,164.05 288.14,163.75"/><polygon points="303.60,165.67 301.49,164.92 301.69,163.95 302.63,163.66"/><polygon points="317.85,165.35 315.88,164.73 316.08,163.76 317.02,163.47"/><polygon points="332.10,165.04 330.27,164.54 330.47,163.58 331.41,163.28"/><polygon points="346.36,164.74 344.67,164.36 344.87,163.40 345.81,163.10"/><polygon points="360.32,164.16 358.88,164.01 359.08,163.05 360.02,162.75"/><polygon points="374.03,163.36 372.95,163.53 373.15,162.57 374.09,162.27"/><polygon points="415.63,161.39 416.57,161.08 416.37,162.05 415.43,162.35"/><polygon points="429.86,161.05 430.94,160.88 430.75,161.85 429.81,162.15"/><polygon points="444.13,160.76 445.35,160.71 445.15,161.67 444.21,161.97"/><polygon points="458.43,160.49 459.77,160.55 459.57,161.51 458.63,161.81"/><polygon points="472.76,160.24 474.20,160.40 474.01,161.36 473.07,161.66"/><polygon points="487.22,160.12 488.72,160.33 488.53,161.29 487.59,161.59"/><polygon points="501.70,160.01 503.25,160.26 503.05,161.22 502.11,161.52"/><polygon points="101.27,180.65 98.34,179.15 98.53,178.19 99.47,177.89"/><polygon points="115.76,180.55 112.87,179.09 113.06,178.12 114.00,177.83"/><polygon points="130.25,180.45 127.40,179.03 127.60,178.06 128.54,177.77"/><polygon points="144.59,180.22 141.85,178.89 142.04,177.93 142.98,177.63"/><polygon points="158.94,179.99 156.29,178.75 156.49,177.79 157.43,177.49"/><polygon points="173.29,179.76 170.74,178.62 170.94,177.65 171.88,177.35"/><polygon points="187.64,179.54 185.19,178.49 185.39,177.52 186.33,177.22"/><polygon points="202.51,179.78 199.96,178.63 200.15,177.66 201.09,177.37"/><polygon points="216.73,179.44 214.33,178.43 214.53,177.46 215.47,177.16"/><polygon points="231.14,179.28 228.82,178.33 229.02,177.36 229.96,177.06"/><polygon points="245.56,179.11 243.31,178.23 243.51,177.26 244.45,176.96"/><polygon points="259.98,178.95 257.80,178.13 258.00,177.16 258.94,176.87"/><polygon points="274.22,178.63 272.19,177.94 272.38,176.97 273.32,176.67"/><polygon points="288.65,178.47 286.68,177.84 286.88,176.88 287.82,176.58"/><polygon points="302.99,178.23 301.12,177.70 301.32,176.74 302.26,176.44"/><polygon points="317.33,178.01 315.57,177.57 315.77,176.60 316.71,176.30"/><polygon points="331.44,177.56 329.87,177.30 330.07,176.33 331.01,176.03"/><polygon points="345.56,177.13 344.19,177.04 344.39,176.08 345.33,175.78"/><polygon points="359.43,176.48 358.35,176.65 358.55,175.68 359.49,175.38"/><polygon points="401.04,174.51 401.97,174.20 401.78,175.17 400.84,175.47"/><polygon points="415.06,173.98 416.22,173.89 416.03,174.85 415.09,175.15"/><polygon points="429.28,173.64 430.59,173.68 430.40,174.65 429.46,174.95"/><polygon points="443.53,173.33 444.99,173.50 444.79,174.47 443.85,174.76"/><polygon points="457.82,173.05 459.40,173.33 459.20,174.29 458.26,174.59"/><polygon points="472.26,172.91 473.91,173.25 473.71,174.21 472.77,174.51"/><polygon points="486.57,172.65 488.33,173.09 488.13,174.05 487.19,174.35"/><polygon points="501.03,172.52 502.85,173.01 502.65,173.98 501.71,174.28"/><polygon points="100.88,193.41 98.10,192.05 98.30,191.09 99.24,190.79"/><polygon points="115.37,193.31 112.63,191.99 112.83,191.03 113.77,190.73"/><polygon points="129.85,193.21 127.16,191.93 127.36,190.97 128.30,190.67"/><polygon points="144.34,193.10 141.69,191.87 141.89,190.90 142.83,190.60"/><polygon points="158.82,193.00 156.22,191.81 156.42,190.84 157.36,190.54"/><polygon points="173.31,192.90 170.76,191.75 170.95,190.78 171.89,190.48"/><polygon points="187.77,192.77 185.27,191.67 185.47,190.70 186.41,190.40"/><polygon points="202.06,192.49 199.69,191.50 199.88,190.54 200.82,190.24"/><polygon points="216.33,192.19 214.09,191.32 214.28,190.36 215.22,190.06"/><polygon points="230.74,192.03 228.58,191.23 228.77,190.26 229.71,189.96"/><polygon points="245.13,191.84 243.05,191.11 243.25,190.14 244.19,189.85"/><polygon points="259.38,191.52 257.44,190.92 257.63,189.95 258.57,189.66"/><polygon points="273.63,191.21 271.83,190.73 272.03,189.77 272.97,189.47"/><polygon points="287.93,190.94 286.25,190.57 286.45,189.61 287.39,189.31"/><polygon points="302.33,190.76 300.73,190.47 300.93,189.50 301.87,189.20"/><polygon points="316.58,190.44 315.12,190.27 315.32,189.31 316.26,189.01"/><polygon points="330.63,189.95 329.39,189.98 329.59,189.01 330.53,188.71"/><polygon points="344.41,189.21 343.49,189.53 343.69,188.57 344.63,188.27"/><polygon points="372.05,187.81 372.90,187.43 372.70,188.39 371.76,188.69"/><polygon points="385.87,187.11 387.03,187.01 386.83,187.98 385.89,188.28"/><polygon points="400.14,186.82 401.43,186.83 401.24,187.80 400.30,188.10"/><polygon points="414.44,186.55 415.85,186.67 415.66,187.64 414.72,187.94"/><polygon points="428.65,186.20 430.22,186.46 430.02,187.43 429.08,187.73"/><polygon points="442.90,185.88 444.61,186.27 444.41,187.24 443.47,187.53"/><polygon points="457.16,185.57 459.00,186.09 458.81,187.05 457.87,187.35"/><polygon points="471.60,185.43 473.51,186.00 473.31,186.97 472.37,187.26"/><polygon points="486.04,185.28 488.01,185.91 487.81,186.88 486.87,187.18"/><polygon points="500.48,185.14 502.52,185.83 502.32,186.80 501.38,187.09"/><polygon points="100.50,206.18 97.87,204.96 98.07,203.99 99.01,203.70"/><polygon points="114.99,206.08 112.40,204.90 112.60,203.94 113.54,203.64"/><polygon points="129.46,205.97 126.93,204.84 127.13,203.87 128.07,203.57"/><polygon points="143.94,205.86 141.46,204.77 141.65,203.80 142.59,203.51"/><polygon points="158.42,205.75 155.98,204.70 156.18,203.74 157.12,203.44"/><polygon points="172.91,205.66 170.52,204.65 170.72,203.68 171.66,203.38"/><polygon points="187.37,205.53 185.03,204.57 185.23,203.60 186.17,203.31"/><polygon points="201.74,205.32 199.50,204.45 199.69,203.48 200.63,203.18"/><polygon points="216.04,205.05 213.91,204.28 214.11,203.32 215.05,203.02"/><polygon points="230.28,204.73 228.30,204.09 228.50,203.12 229.44,202.83"/><polygon points="244.54,204.42 242.69,203.90 242.89,202.94 243.83,202.64"/><polygon points="258.73,204.05 257.05,203.69 257.25,202.72 258.19,202.42"/><polygon points="272.84,203.62 271.36,203.42 271.55,202.46 272.49,202.16"/><polygon points="287.10,203.31 285.75,203.24 285.95,202.27 286.89,201.97"/><polygon points="301.55,203.17 300.26,203.16 300.46,202.19 301.40,201.89"/><polygon points="315.71,202.78 314.60,202.92 314.80,201.95 315.74,201.66"/><polygon points="329.54,202.08 328.73,202.50 328.93,201.54 329.87,201.24"/><polygon points="357.37,200.85 358.25,200.50 358.05,201.47 357.11,201.76"/><polygon points="370.91,199.90 372.21,199.93 372.02,200.90 371.08,201.19"/><polygon points="385.01,199.45 386.52,199.66 386.32,200.63 385.38,200.93"/><polygon points="399.45,199.31 401.02,199.58 400.82,200.54 399.88,200.84"/><polygon points="414.05,199.31 415.62,199.58 415.42,200.54 414.48,200.84"/><polygon points="428.30,198.99 430.01,199.38 429.81,200.35 428.87,200.65"/><polygon points="442.56,198.69 444.40,199.20 444.21,200.17 443.27,200.47"/><polygon points="457.00,198.54 458.91,199.11 458.71,200.08 457.77,200.38"/><polygon points="471.44,198.40 473.41,199.03 473.21,199.99 472.27,200.29"/><polygon points="485.88,198.26 487.92,198.94 487.72,199.91 486.78,200.21"/><polygon points="500.33,198.12 502.43,198.86 502.23,199.83 501.29,200.13"/><polygon points="100.12,218.95 97.64,217.87 97.84,216.90 98.78,216.61"/><polygon points="114.61,218.86 112.18,217.81 112.37,216.85 113.31,216.55"/><polygon points="129.08,218.74 126.70,217.74 126.90,216.78 127.84,216.48"/><polygon points="143.56,218.63 141.23,217.68 141.42,216.71 142.36,216.41"/><polygon points="158.03,218.51 155.75,217.61 155.95,216.64 156.89,216.34"/><polygon points="172.53,218.42 170.29,217.55 170.48,216.58 171.42,216.29"/><polygon points="186.97,218.28 184.79,217.47 184.99,216.50 185.93,216.20"/><polygon points="201.33,218.06 199.25,217.34 199.45,216.37 200.39,216.07"/><polygon points="215.61,217.78 213.66,217.17 213.86,216.20 214.80,215.90"/><polygon points="229.87,217.47 228.05,216.98 228.25,216.01 229.19,215.72"/><polygon points="244.03,217.08 242.39,216.75 242.59,215.78 243.53,215.48"/><polygon points="258.15,216.64 256.70,216.49 256.90,215.52 257.84,215.22"/><polygon points="272.20,216.15 270.97,216.19 271.17,215.22 272.11,214.93"/><polygon points="286.40,215.79 285.33,215.98 285.53,215.01 286.47,214.71"/><polygon points="300.73,215.55 299.77,215.83 299.97,214.86 300.91,214.57"/><polygon points="314.80,215.08 314.05,215.54 314.25,214.58 315.19,214.28"/><polygon points="342.52,213.74 343.50,213.48 343.30,214.45 342.36,214.75"/><polygon points="356.27,212.97 357.59,213.02 357.39,213.99 356.45,214.28"/><polygon points="370.24,212.41 371.81,212.68 371.62,213.65 370.68,213.95"/><polygon points="384.45,212.07 386.18,212.47 385.98,213.44 385.04,213.74"/><polygon points="398.92,211.95 400.70,212.40 400.51,213.37 399.57,213.67"/><polygon points="413.52,211.95 415.30,212.40 415.11,213.37 414.17,213.67"/><polygon points="427.96,211.80 429.80,212.31 429.61,213.28 428.67,213.58"/><polygon points="442.40,211.65 444.31,212.23 444.11,213.19 443.17,213.49"/><polygon points="456.84,211.51 458.81,212.14 458.61,213.11 457.67,213.41"/><polygon points="471.28,211.37 473.32,212.06 473.12,213.02 472.18,213.32"/><polygon points="485.73,211.23 487.83,211.98 487.63,212.94 486.69,213.24"/><polygon points="500.18,211.10 502.34,211.90 502.14,212.86 501.20,213.16"/><polygon points="99.74,231.73 97.42,230.78 97.62,229.82 98.56,229.52"/><polygon points="114.24,231.64 111.96,230.73 112.15,229.76 113.09,229.46"/><polygon points="128.71,231.52 126.48,230.66 126.67,229.69 127.61,229.39"/><polygon points="143.18,231.40 141.00,230.59 141.19,229.62 142.13,229.32"/><polygon points="157.65,231.28 155.52,230.52 155.72,229.55 156.66,229.25"/><polygon points="172.14,231.19 170.06,230.46 170.25,229.49 171.19,229.20"/><polygon points="186.57,231.04 184.56,230.37 184.75,229.40 185.69,229.10"/><polygon points="200.92,230.81 199.01,230.23 199.20,229.27 200.14,228.97"/><polygon points="215.20,230.52 213.41,230.06 213.61,229.09 214.55,228.79"/><polygon points="229.33,230.10 227.73,229.81 227.93,228.84 228.87,228.54"/><polygon points="243.46,229.67 242.05,229.55 242.24,228.58 243.18,228.29"/><polygon points="257.48,229.16 256.30,229.24 256.50,228.28 257.44,227.98"/><polygon points="271.53,228.67 270.57,228.94 270.77,227.98 271.71,227.68"/><polygon points="285.79,228.35 284.96,228.76 285.16,227.79 286.10,227.49"/><polygon points="327.70,226.66 328.77,226.48 328.57,227.44 327.63,227.74"/><polygon points="341.40,225.85 342.83,225.99 342.63,226.96 341.69,227.26"/><polygon points="355.49,225.39 357.12,225.71 356.92,226.68 355.98,226.98"/><polygon points="369.65,225.00 371.46,225.48 371.26,226.45 370.32,226.74"/><polygon points="383.97,224.74 385.89,225.33 385.69,226.29 384.75,226.59"/><polygon points="398.53,224.71 400.47,225.30 400.27,226.27 399.33,226.57"/><polygon points="413.20,224.77 415.11,225.34 414.91,226.31 413.97,226.61"/><polygon points="427.64,224.62 429.61,225.26 429.41,226.22 428.47,226.52"/><polygon points="442.08,224.49 444.12,225.17 443.92,226.14 442.98,226.44"/><polygon points="456.53,224.35 458.63,225.09 458.43,226.06 457.49,226.35"/><polygon points="470.98,224.21 473.14,225.01 472.94,225.98 472.00,226.27"/><polygon points="485.58,224.21 487.74,225.01 487.54,225.98 486.60,226.27"/><polygon points="500.03,224.08 502.25,224.93 502.05,225.90 501.11,226.19"/><polygon points="99.20,244.36 97.09,243.60 97.29,242.64 98.23,242.34"/><polygon points="113.74,244.30 111.65,243.57 111.85,242.60 112.79,242.31"/><polygon points="128.14,244.13 126.14,243.47 126.33,242.50 127.27,242.20"/><polygon points="142.55,243.96 140.62,243.36 140.82,242.40 141.76,242.10"/><polygon points="157.04,243.85 155.15,243.30 155.35,242.33 156.29,242.04"/><polygon points="171.51,243.73 169.68,243.23 169.87,242.26 170.81,241.97"/><polygon points="185.99,243.63 184.21,243.17 184.40,242.20 185.34,241.91"/><polygon points="200.41,243.46 198.70,243.07 198.89,242.10 199.83,241.80"/><polygon points="214.70,243.19 213.11,242.90 213.31,241.94 214.25,241.64"/><polygon points="228.86,242.79 227.45,242.66 227.64,241.70 228.58,241.40"/><polygon points="242.94,242.33 241.74,242.39 241.93,241.42 242.87,241.12"/><polygon points="257.05,241.89 256.04,242.12 256.24,241.16 257.18,240.86"/><polygon points="271.12,241.40 270.32,241.83 270.52,240.87 271.46,240.57"/><polygon points="312.95,239.64 314.08,239.51 313.88,240.48 312.94,240.77"/><polygon points="326.78,238.95 328.22,239.09 328.02,240.06 327.08,240.36"/><polygon points="340.87,238.49 342.51,238.82 342.32,239.79 341.38,240.08"/><polygon points="355.05,238.11 356.86,238.59 356.66,239.56 355.72,239.86"/><polygon points="369.28,237.78 371.24,238.39 371.04,239.36 370.10,239.66"/><polygon points="383.62,237.54 385.68,238.25 385.48,239.22 384.54,239.52"/><polygon points="398.09,237.42 400.20,238.18 400.00,239.15 399.06,239.44"/><polygon points="412.65,237.40 414.78,238.16 414.58,239.13 413.64,239.43"/><polygon points="427.11,237.26 429.29,238.08 429.10,239.05 428.16,239.35"/><polygon points="441.56,237.13 443.80,238.01 443.61,238.97 442.67,239.27"/><polygon points="456.02,237.00 458.32,237.93 458.12,238.89 457.18,239.19"/><polygon points="470.55,236.94 472.88,237.89 472.68,238.86 471.74,239.15"/><polygon points="485.08,236.88 487.43,237.85 487.24,238.82 486.30,239.12"/><polygon points="499.61,236.82 501.99,237.82 501.80,238.78 500.86,239.08"/><polygon points="98.85,257.15 96.88,256.53 97.08,255.56 98.02,255.26"/><polygon points="113.45,257.15 111.48,256.53 111.68,255.56 112.62,255.26"/><polygon points="127.83,256.95 125.95,256.41 126.14,255.44 127.08,255.14"/><polygon points="142.21,256.76 140.42,256.29 140.61,255.33 141.55,255.03"/><polygon points="156.60,256.57 154.89,256.18 155.09,255.21 156.03,254.91"/><polygon points="171.03,256.42 169.39,256.09 169.59,255.12 170.53,254.82"/><polygon points="185.60,256.39 183.97,256.07 184.17,255.10 185.11,254.81"/><polygon points="200.20,256.39 198.57,256.07 198.77,255.10 199.71,254.81"/><polygon points="214.41,256.04 212.94,255.86 213.14,254.90 214.08,254.60"/><polygon points="228.55,255.63 227.26,255.61 227.46,254.65 228.40,254.35"/><polygon points="242.49,255.04 241.47,255.26 241.66,254.29 242.60,253.99"/><polygon points="256.56,254.56 255.75,254.97 255.95,254.01 256.89,253.71"/><polygon points="298.07,252.50 299.31,252.47 299.11,253.44 298.17,253.73"/><polygon points="311.97,251.87 313.49,252.09 313.29,253.06 312.35,253.36"/><polygon points="326.03,251.38 327.76,251.80 327.57,252.77 326.63,253.07"/><polygon points="340.26,251.05 342.14,251.60 341.95,252.57 341.01,252.87"/><polygon points="354.59,250.81 356.58,251.46 356.39,252.43 355.45,252.72"/><polygon points="368.94,250.58 371.03,251.32 370.83,252.29 369.89,252.59"/><polygon points="383.29,250.36 385.48,251.19 385.28,252.15 384.34,252.45"/><polygon points="397.67,250.16 399.95,251.07 399.75,252.03 398.81,252.33"/><polygon points="412.15,250.05 414.48,251.00 414.28,251.97 413.34,252.27"/><polygon points="426.61,249.93 428.99,250.93 428.80,251.90 427.86,252.19"/><polygon points="441.07,249.81 443.51,250.86 443.31,251.82 442.37,252.12"/><polygon points="455.54,249.68 458.03,250.78 457.83,251.75 456.89,252.05"/><polygon points="470.00,249.56 472.55,250.71 472.35,251.68 471.41,251.97"/><polygon points="484.60,249.56 487.15,250.71 486.95,251.68 486.01,251.97"/><polygon points="499.20,249.56 501.75,250.71 501.55,251.68 500.61,251.97"/><polygon points="98.67,270.11 96.78,269.55 96.97,268.58 97.91,268.28"/><polygon points="113.27,270.11 111.38,269.55 111.57,268.58 112.51,268.28"/><polygon points="127.66,269.91 125.85,269.43 126.04,268.46 126.98,268.17"/><polygon points="142.04,269.72 140.32,269.32 140.51,268.35 141.45,268.05"/><polygon points="156.30,269.42 154.71,269.13 154.91,268.17 155.85,267.87"/><polygon points="170.71,269.24 169.20,269.03 169.39,268.06 170.33,267.76"/><polygon points="185.28,269.21 183.78,269.01 183.97,268.04 184.91,267.75"/><polygon points="199.88,269.21 198.38,269.01 198.57,268.04 199.51,267.75"/><polygon points="213.98,268.77 212.68,268.74 212.88,267.78 213.82,267.48"/><polygon points="228.00,268.25 226.93,268.43 227.13,267.46 228.07,267.17"/><polygon points="241.99,267.69 241.16,268.10 241.36,267.13 242.30,266.83"/><polygon points="269.90,266.54 270.73,266.14 270.53,267.11 269.59,267.41"/><polygon points="283.51,265.65 284.74,265.61 284.54,266.58 283.60,266.87"/><polygon points="297.39,265.00 298.90,265.22 298.70,266.18 297.76,266.48"/><polygon points="311.43,264.50 313.16,264.92 312.97,265.88 312.03,266.18"/><polygon points="325.66,264.17 327.54,264.72 327.35,265.68 326.41,265.98"/><polygon points="339.94,263.88 341.95,264.55 341.76,265.51 340.82,265.81"/><polygon points="354.29,263.65 356.40,264.41 356.20,265.38 355.26,265.67"/><polygon points="368.64,263.43 370.85,264.28 370.66,265.24 369.72,265.54"/><polygon points="383.00,263.21 385.31,264.15 385.11,265.11 384.17,265.41"/><polygon points="397.39,263.02 399.78,264.03 399.58,265.00 398.64,265.30"/><polygon points="411.87,262.92 414.31,263.97 414.11,264.94 413.17,265.23"/><polygon points="426.34,262.80 428.83,263.90 428.63,264.86 427.69,265.16"/><polygon points="440.80,262.68 443.35,263.82 443.15,264.79 442.21,265.09"/><polygon points="455.27,262.56 457.87,263.75 457.67,264.72 456.73,265.02"/><polygon points="469.74,262.44 472.39,263.68 472.20,264.65 471.26,264.95"/><polygon points="484.34,262.44 486.99,263.68 486.80,264.65 485.86,264.95"/><polygon points="498.94,262.44 501.59,263.68 501.40,264.65 500.46,264.95"/><polygon points="98.30,282.89 96.55,282.46 96.75,281.49 97.69,281.20"/><polygon points="112.90,282.89 111.15,282.46 111.35,281.49 112.29,281.20"/><polygon points="127.26,282.67 125.61,282.33 125.80,281.36 126.74,281.06"/><polygon points="141.56,282.41 140.03,282.17 140.23,281.21 141.17,280.91"/><polygon points="155.89,282.16 154.46,282.02 154.66,281.06 155.60,280.76"/><polygon points="170.22,281.91 168.90,281.88 169.10,280.91 170.04,280.61"/><polygon points="184.84,281.94 183.52,281.89 183.71,280.92 184.65,280.63"/><polygon points="199.42,281.92 198.10,281.88 198.30,280.91 199.24,280.61"/><polygon points="213.54,281.49 212.42,281.62 212.61,280.65 213.55,280.36"/><polygon points="227.41,280.83 226.58,281.23 226.77,280.26 227.71,279.96"/><polygon points="254.98,279.37 255.94,279.08 255.74,280.05 254.80,280.35"/><polygon points="268.61,278.49 269.95,278.56 269.76,279.52 268.82,279.82"/><polygon points="282.58,277.93 284.18,278.22 283.98,279.19 283.04,279.49"/><polygon points="296.79,277.58 298.54,278.01 298.35,278.98 297.41,279.28"/><polygon points="310.93,277.17 312.87,277.76 312.67,278.73 311.73,279.03"/><polygon points="325.19,276.86 327.26,277.58 327.07,278.54 326.13,278.84"/><polygon points="339.49,276.59 341.68,277.42 341.49,278.38 340.55,278.68"/><polygon points="353.85,276.37 356.14,277.29 355.94,278.25 355.00,278.55"/><polygon points="368.28,276.22 370.64,277.20 370.44,278.16 369.50,278.46"/><polygon points="382.72,276.08 385.14,277.11 384.94,278.08 384.00,278.37"/><polygon points="397.11,275.89 399.62,277.00 399.42,277.97 398.48,278.26"/><polygon points="411.60,275.79 414.15,276.94 413.95,277.90 413.01,278.20"/><polygon points="426.07,275.67 428.67,276.87 428.47,277.83 427.53,278.13"/><polygon points="440.54,275.56 443.19,276.80 443.00,277.76 442.06,278.06"/><polygon points="455.01,275.44 457.72,276.73 457.52,277.69 456.58,277.99"/><polygon points="469.49,275.33 472.24,276.66 472.04,277.63 471.10,277.92"/><polygon points="484.09,275.33 486.84,276.66 486.64,277.63 485.70,277.92"/><polygon points="498.69,275.33 501.44,276.66 501.24,277.63 500.30,277.92"/><polygon points="97.95,295.69 96.34,295.39 96.54,294.42 97.48,294.12"/><polygon points="112.55,295.69 110.94,295.39 111.14,294.42 112.08,294.12"/><polygon points="126.93,295.49 125.41,295.27 125.60,294.30 126.54,294.00"/><polygon points="141.20,295.19 139.81,295.09 140.01,294.12 140.95,293.82"/><polygon points="155.51,294.94 154.24,294.93 154.44,293.97 155.38,293.67"/><polygon points="169.88,294.73 168.70,294.81 168.90,293.84 169.84,293.54"/><polygon points="184.41,294.66 183.26,294.77 183.45,293.80 184.39,293.51"/><polygon points="198.86,294.53 197.77,294.69 197.97,293.73 198.91,293.43"/><polygon points="212.91,294.03 212.04,294.39 212.23,293.43 213.17,293.13"/><polygon points="240.44,292.53 241.37,292.23 241.18,293.20 240.24,293.49"/><polygon points="254.01,291.61 255.35,291.67 255.16,292.64 254.22,292.94"/><polygon points="267.84,290.91 269.49,291.26 269.29,292.22 268.35,292.52"/><polygon points="281.89,290.42 283.76,290.96 283.57,291.93 282.63,292.23"/><polygon points="296.14,290.11 298.15,290.77 297.96,291.74 297.02,292.04"/><polygon points="310.44,289.84 312.57,290.61 312.38,291.58 311.44,291.88"/><polygon points="324.75,289.57 327.00,290.45 326.80,291.42 325.86,291.72"/><polygon points="339.06,289.32 341.43,290.30 341.23,291.27 340.29,291.57"/><polygon points="353.52,289.19 355.94,290.22 355.74,291.19 354.80,291.49"/><polygon points="368.01,289.09 370.47,290.16 370.28,291.13 369.34,291.43"/><polygon points="382.45,288.95 384.98,290.08 384.78,291.04 383.84,291.34"/><polygon points="396.85,288.77 399.46,289.97 399.26,290.94 398.32,291.23"/><polygon points="411.34,288.67 413.99,289.91 413.80,290.88 412.86,291.18"/><polygon points="425.81,288.56 428.52,289.84 428.32,290.81 427.38,291.11"/><polygon points="440.29,288.44 443.04,289.77 442.84,290.74 441.90,291.04"/><polygon points="454.76,288.33 457.56,289.71 457.37,290.67 456.43,290.97"/><polygon points="469.24,288.22 472.09,289.64 471.89,290.61 470.95,290.90"/><polygon points="483.84,288.22 486.69,289.64 486.49,290.61 485.55,290.90"/><polygon points="498.44,288.22 501.29,289.64 501.09,290.61 500.15,290.90"/><polygon points="97.63,308.51 96.15,308.33 96.34,307.36 97.29,307.06"/><polygon points="112.09,308.39 110.67,308.25 110.86,307.29 111.80,306.99"/><polygon points="126.49,308.21 125.15,308.15 125.34,307.18 126.28,306.88"/><polygon points="140.74,307.89 139.54,307.96 139.73,306.99 140.67,306.69"/><polygon points="154.94,307.54 153.90,307.74 154.09,306.78 155.03,306.48"/><polygon points="169.32,307.34 168.36,307.62 168.56,306.66 169.50,306.36"/><polygon points="183.76,307.20 182.87,307.54 183.07,306.57 184.01,306.27"/><polygon points="198.12,306.98 197.32,307.41 197.52,306.44 198.46,306.14"/><polygon points="226.10,305.88 226.93,305.48 226.73,306.45 225.79,306.75"/><polygon points="239.45,304.76 240.78,304.81 240.58,305.77 239.64,306.07"/><polygon points="253.24,304.03 254.89,304.37 254.69,305.34 253.75,305.64"/><polygon points="267.16,303.42 269.09,304.01 268.89,304.97 267.95,305.27"/><polygon points="281.27,302.98 283.39,303.74 283.19,304.71 282.25,305.01"/><polygon points="295.55,302.69 297.80,303.57 297.60,304.53 296.66,304.83"/><polygon points="309.98,302.54 312.29,303.48 312.10,304.44 311.16,304.74"/><polygon points="324.33,302.31 326.74,303.34 326.55,304.31 325.61,304.61"/><polygon points="338.76,302.16 341.25,303.25 341.05,304.22 340.11,304.52"/><polygon points="353.25,302.06 355.78,303.19 355.58,304.16 354.64,304.46"/><polygon points="367.68,301.91 370.27,303.10 370.08,304.06 369.14,304.36"/><polygon points="382.10,301.75 384.77,303.00 384.57,303.97 383.63,304.27"/><polygon points="396.59,301.65 399.30,302.94 399.11,303.91 398.17,304.21"/><polygon points="411.09,301.56 413.84,302.89 413.64,303.85 412.70,304.15"/><polygon points="425.56,301.44 428.36,302.82 428.17,303.79 427.23,304.08"/><polygon points="440.04,301.33 442.89,302.75 442.69,303.72 441.75,304.02"/><polygon points="454.51,301.22 457.42,302.69 457.22,303.65 456.28,303.95"/><polygon points="468.99,301.11 471.94,302.62 471.75,303.59 470.81,303.89"/><polygon points="483.59,301.11 486.54,302.62 486.35,303.59 485.41,303.89"/><polygon points="498.19,301.11 501.14,302.62 500.95,303.59 500.01,303.89"/><polygon points="97.33,321.36 95.97,321.28 96.17,320.31 97.11,320.02"/><polygon points="111.81,321.25 110.50,321.22 110.69,320.25 111.63,319.95"/><polygon points="126.11,320.98 124.92,321.05 125.11,320.09 126.05,319.79"/><polygon points="140.34,320.65 139.30,320.85 139.49,319.89 140.43,319.59"/><polygon points="154.55,320.30 153.66,320.64 153.86,319.68 154.80,319.38"/><polygon points="168.87,320.05 168.09,320.49 168.29,319.53 169.23,319.23"/><polygon points="211.24,318.76 212.17,318.46 211.98,319.42 211.04,319.72"/><polygon points="224.81,317.83 226.15,317.90 225.96,318.87 225.02,319.16"/><polygon points="238.64,317.14 240.29,317.48 240.09,318.45 239.15,318.75"/><polygon points="252.56,316.54 254.49,317.12 254.29,318.09 253.35,318.39"/><polygon points="266.67,316.09 268.79,316.86 268.59,317.82 267.65,318.12"/><polygon points="280.83,315.70 283.13,316.62 282.93,317.59 281.99,317.88"/><polygon points="295.13,315.42 297.54,316.45 297.35,317.42 296.41,317.72"/><polygon points="309.56,315.28 312.05,316.37 311.85,317.33 310.91,317.63"/><polygon points="324.03,315.16 326.57,316.29 326.37,317.26 325.43,317.56"/><polygon points="338.50,315.04 341.09,316.22 340.89,317.19 339.95,317.49"/><polygon points="352.90,314.87 355.57,316.12 355.37,317.09 354.43,317.38"/><polygon points="367.35,314.73 370.08,316.04 369.88,317.00 368.94,317.30"/><polygon points="381.84,314.63 384.62,315.98 384.42,316.95 383.48,317.24"/><polygon points="396.34,314.54 399.15,315.92 398.96,316.89 398.02,317.19"/><polygon points="410.84,314.44 413.69,315.87 413.49,316.83 412.55,317.13"/><polygon points="425.31,314.33 428.22,315.80 428.02,316.77 427.08,317.06"/><polygon points="439.79,314.23 442.74,315.73 442.55,316.70 441.61,317.00"/><polygon points="454.27,314.12 457.27,315.67 457.07,316.64 456.13,316.93"/><polygon points="468.75,314.01 471.80,315.61 471.60,316.57 470.66,316.87"/><polygon points="483.35,314.01 486.40,315.61 486.20,316.57 485.26,316.87"/><polygon points="497.95,314.01 501.00,315.61 500.80,316.57 499.86,316.87"/><polygon points="97.06,334.23 95.81,334.25 96.00,333.28 96.94,332.98"/><polygon points="111.50,334.08 110.31,334.16 110.51,333.19 111.45,332.90"/><polygon points="125.71,333.74 124.68,333.95 124.87,332.99 125.81,332.69"/><polygon points="139.95,333.42 139.06,333.76 139.26,332.79 140.20,332.50"/><polygon points="196.71,331.94 197.62,331.61 197.42,332.58 196.48,332.88"/><polygon points="210.14,330.89 211.51,330.98 211.32,331.95 210.38,332.24"/><polygon points="223.88,330.11 225.60,330.51 225.40,331.48 224.46,331.78"/><polygon points="237.87,329.56 239.83,330.18 239.63,331.15 238.69,331.45"/><polygon points="251.99,329.14 254.15,329.93 253.95,330.90 253.01,331.19"/><polygon points="266.22,328.80 268.52,329.73 268.32,330.69 267.38,330.99"/><polygon points="280.42,328.44 282.88,329.51 282.68,330.48 281.74,330.77"/><polygon points="294.72,328.18 297.30,329.35 297.11,330.32 296.17,330.62"/><polygon points="309.17,328.04 311.81,329.27 311.61,330.23 310.67,330.53"/><polygon points="323.64,327.92 326.33,329.20 326.13,330.16 325.19,330.46"/><polygon points="338.11,327.81 340.85,329.13 340.66,330.10 339.72,330.39"/><polygon points="352.60,327.71 355.39,329.07 355.19,330.04 354.25,330.34"/><polygon points="367.10,327.62 369.93,329.02 369.73,329.98 368.79,330.28"/><polygon points="381.59,327.51 384.46,328.95 384.26,329.92 383.32,330.22"/><polygon points="396.06,327.40 398.98,328.88 398.79,329.85 397.85,330.15"/><polygon points="410.53,327.28 413.51,328.82 413.31,329.78 412.37,330.08"/><polygon points="425.01,327.18 428.03,328.75 427.84,329.72 426.90,330.02"/><polygon points="439.49,327.07 442.56,328.69 442.37,329.65 441.43,329.95"/><polygon points="453.97,326.97 457.07,328.61 456.88,329.57 455.94,329.87"/><polygon points="468.52,326.91 471.61,328.55 471.42,329.52 470.48,329.82"/><polygon points="483.12,326.91 486.21,328.55 486.02,329.52 485.08,329.82"/><polygon points="497.72,326.91 500.81,328.55 500.62,329.52 499.68,329.82"/><polygon points="96.81,347.12 95.66,347.23 95.86,346.26 96.80,345.96"/><polygon points="111.22,346.95 110.14,347.12 110.34,346.16 111.28,345.86"/><polygon points="125.46,346.63 124.53,346.93 124.72,345.97 125.66,345.67"/><polygon points="139.67,346.28 138.90,346.72 139.09,345.76 140.03,345.46"/><polygon points="181.50,344.51 182.65,344.39 182.45,345.36 181.51,345.66"/><polygon points="195.21,343.70 196.71,343.91 196.52,344.88 195.58,345.18"/><polygon points="209.09,343.06 210.88,343.53 210.69,344.49 209.75,344.79"/><polygon points="223.05,342.48 225.10,343.18 224.90,344.15 223.96,344.45"/><polygon points="237.18,342.06 239.41,342.93 239.22,343.89 238.28,344.19"/><polygon points="251.46,341.78 253.83,342.76 253.63,343.72 252.69,344.02"/><polygon points="265.79,341.53 268.26,342.61 268.07,343.58 267.13,343.87"/><polygon points="280.07,341.24 282.67,342.44 282.47,343.40 281.53,343.70"/><polygon points="294.35,340.95 297.08,342.26 296.88,343.23 295.94,343.53"/><polygon points="308.78,340.81 311.58,342.18 311.38,343.14 310.44,343.44"/><polygon points="323.26,340.70 326.10,342.11 325.91,343.07 324.97,343.37"/><polygon points="337.74,340.58 340.63,342.04 340.43,343.01 339.49,343.31"/><polygon points="352.23,340.49 355.17,341.99 354.97,342.95 354.03,343.25"/><polygon points="366.73,340.40 369.71,341.93 369.51,342.90 368.57,343.20"/><polygon points="381.25,340.33 384.26,341.89 384.06,342.85 383.12,343.15"/><polygon points="395.78,340.27 398.82,341.85 398.62,342.82 397.68,343.11"/><polygon points="410.23,340.13 413.33,341.77 413.13,342.74 412.19,343.03"/><polygon points="424.72,340.03 427.81,341.67 427.62,342.63 426.68,342.93"/><polygon points="439.20,339.92 442.30,341.56 442.10,342.53 441.16,342.83"/><polygon points="453.80,339.92 456.90,341.56 456.70,342.53 455.76,342.83"/><polygon points="468.29,339.82 471.38,341.46 471.19,342.43 470.25,342.72"/><polygon points="482.89,339.82 485.98,341.46 485.79,342.43 484.85,342.72"/><polygon points="497.49,339.82 500.58,341.46 500.39,342.43 499.45,342.72"/><polygon points="96.50,359.96 95.47,360.17 95.67,359.21 96.61,358.91"/><polygon points="110.93,359.80 109.97,360.08 110.16,359.11 111.10,358.82"/><polygon points="125.22,359.52 124.38,359.91 124.58,358.95 125.52,358.65"/><polygon points="166.36,357.14 167.73,357.22 167.53,358.19 166.59,358.48"/><polygon points="180.06,356.33 181.78,356.73 181.59,357.70 180.65,358.00"/><polygon points="194.13,355.85 196.07,356.45 195.87,357.41 194.93,357.71"/><polygon points="208.27,355.43 210.39,356.20 210.19,357.16 209.25,357.46"/><polygon points="222.43,355.04 224.73,355.96 224.53,356.93 223.59,357.23"/><polygon points="236.62,354.67 239.08,355.74 238.88,356.70 237.94,357.00"/><polygon points="250.92,354.40 253.50,355.58 253.31,356.55 252.37,356.84"/><polygon points="265.26,354.17 267.95,355.44 267.75,356.41 266.81,356.70"/><polygon points="279.66,353.99 282.42,355.33 282.23,356.30 281.29,356.59"/><polygon points="293.97,353.73 296.85,355.18 296.66,356.14 295.72,356.44"/><polygon points="308.42,353.59 311.36,355.09 311.16,356.06 310.22,356.35"/><polygon points="322.89,353.48 325.88,355.02 325.69,355.99 324.75,356.29"/><polygon points="337.38,353.37 340.41,354.96 340.22,355.93 339.28,356.22"/><polygon points="351.95,353.35 355.00,354.95 354.80,355.91 353.86,356.21"/><polygon points="366.49,353.30 369.56,354.92 369.37,355.88 368.43,356.18"/><polygon points="381.01,353.23 384.11,354.87 383.92,355.84 382.98,356.13"/><polygon points="395.55,353.17 398.64,354.81 398.45,355.77 397.51,356.07"/><polygon points="410.00,353.04 413.10,354.68 412.90,355.64 411.96,355.94"/><polygon points="424.49,352.93 427.58,354.57 427.39,355.54 426.45,355.84"/><polygon points="438.97,352.83 442.07,354.47 441.87,355.44 440.93,355.74"/><polygon points="453.57,352.83 456.67,354.47 456.47,355.44 455.53,355.74"/><polygon points="468.17,352.83 471.27,354.47 471.07,355.44 470.13,355.74"/><polygon points="482.77,352.83 485.87,354.47 485.67,355.44 484.73,355.74"/><polygon points="497.37,352.83 500.47,354.47 500.27,355.44 499.33,355.74"/><polygon points="96.33,372.91 95.37,373.20 95.56,372.23 96.50,371.93"/><polygon points="110.76,372.76 109.87,373.11 110.06,372.14 111.00,371.84"/><polygon points="125.07,372.50 124.29,372.95 124.49,371.98 125.43,371.68"/><polygon points="165.06,369.08 166.94,369.63 166.75,370.60 165.81,370.89"/><polygon points="178.92,368.42 181.10,369.23 180.90,370.20 179.96,370.50"/><polygon points="193.04,367.98 195.41,368.97 195.21,369.94 194.27,370.23"/><polygon points="207.31,367.69 209.81,368.79 209.62,369.76 208.68,370.06"/><polygon points="221.64,367.45 224.25,368.65 224.06,369.62 223.12,369.92"/><polygon points="235.99,367.22 238.70,368.51 238.50,369.48 237.56,369.78"/><polygon points="250.41,367.06 253.19,368.42 253.00,369.38 252.06,369.68"/><polygon points="264.89,366.95 267.72,368.35 267.52,369.32 266.58,369.61"/><polygon points="279.32,366.80 282.22,368.26 282.03,369.23 281.09,369.53"/><polygon points="293.74,366.64 296.71,368.16 296.52,369.13 295.58,369.43"/><polygon points="308.20,366.51 311.23,368.09 311.03,369.05 310.09,369.35"/><polygon points="322.68,366.40 325.76,368.02 325.56,368.99 324.62,369.29"/><polygon points="337.16,366.30 340.26,367.94 340.06,368.90 339.12,369.20"/><polygon points="351.72,366.25 354.81,367.89 354.62,368.86 353.68,369.16"/><polygon points="366.27,366.22 369.37,367.86 369.18,368.82 368.24,369.12"/><polygon points="380.79,366.14 383.88,367.78 383.69,368.74 382.75,369.04"/><polygon points="395.32,366.08 398.42,367.72 398.22,368.69 397.28,368.98"/><polygon points="409.77,365.94 412.87,367.58 412.67,368.55 411.73,368.85"/><polygon points="424.37,365.94 427.47,367.58 427.27,368.55 426.33,368.85"/><polygon points="438.86,365.84 441.96,367.48 441.76,368.45 440.82,368.75"/><polygon points="453.46,365.84 456.56,367.48 456.36,368.45 455.42,368.75"/><polygon points="467.95,365.74 471.04,367.38 470.85,368.35 469.91,368.65"/><polygon points="482.55,365.74 485.64,367.38 485.45,368.35 484.51,368.65"/><polygon points="497.15,365.74 500.24,367.38 500.05,368.35 499.11,368.65"/><polygon points="96.08,385.81 95.22,386.18 95.42,385.21 96.36,384.91"/><polygon points="110.53,385.67 109.73,386.09 109.92,385.13 110.86,384.83"/><polygon points="150.52,382.25 152.38,382.78 152.19,383.75 151.25,384.04"/><polygon points="164.09,381.32 166.36,382.22 166.17,383.19 165.23,383.49"/><polygon points="178.08,380.78 180.60,381.89 180.40,382.86 179.46,383.16"/><polygon points="192.28,380.41 194.95,381.67 194.76,382.64 193.82,382.94"/><polygon points="206.63,380.19 209.41,381.54 209.21,382.51 208.27,382.81"/><polygon points="221.06,380.04 223.90,381.45 223.71,382.42 222.77,382.71"/><polygon points="235.46,379.86 238.39,381.34 238.19,382.31 237.25,382.61"/><polygon points="249.94,379.75 252.91,381.28 252.72,382.25 251.78,382.54"/><polygon points="264.42,379.64 267.44,381.21 267.25,382.18 266.31,382.48"/><polygon points="278.93,379.56 281.98,381.16 281.79,382.13 280.85,382.43"/><polygon points="293.42,379.46 296.52,381.10 296.32,382.07 295.38,382.37"/><polygon points="307.87,379.33 310.97,380.97 310.77,381.93 309.83,382.23"/><polygon points="322.35,379.22 325.45,380.86 325.26,381.83 324.32,382.13"/><polygon points="336.89,379.16 339.98,380.80 339.79,381.77 338.85,382.07"/><polygon points="351.45,379.13 354.55,380.77 354.35,381.73 353.41,382.03"/><polygon points="365.97,379.06 369.07,380.70 368.87,381.67 367.93,381.96"/><polygon points="380.56,379.05 383.66,380.69 383.46,381.66 382.52,381.96"/><polygon points="395.10,379.00 398.20,380.64 398.00,381.60 397.06,381.90"/><polygon points="409.55,378.86 412.64,380.50 412.45,381.46 411.51,381.76"/><polygon points="424.15,378.86 427.24,380.50 427.05,381.46 426.11,381.76"/><polygon points="438.63,378.76 441.73,380.40 441.54,381.36 440.60,381.66"/><polygon points="453.23,378.76 456.33,380.40 456.14,381.36 455.20,381.66"/><polygon points="467.83,378.76 470.93,380.40 470.74,381.36 469.80,381.66"/><polygon points="482.43,378.76 485.53,380.40 485.34,381.36 484.40,381.66"/><polygon points="497.03,378.76 500.13,380.40 499.94,381.36 499.00,381.66"/><polygon points="95.93,398.78 95.13,399.21 95.32,398.24 96.26,397.94"/><polygon points="136.19,395.61 137.94,396.04 137.75,397.00 136.81,397.30"/><polygon points="149.04,394.04 151.49,395.09 151.30,396.06 150.36,396.36"/><polygon points="162.96,393.42 165.68,394.73 165.49,395.69 164.55,395.99"/><polygon points="177.30,393.18 180.13,394.58 179.93,395.55 178.99,395.85"/><polygon points="191.62,392.93 194.56,394.43 194.36,395.40 193.42,395.70"/><polygon points="206.05,392.78 209.06,394.34 208.86,395.31 207.92,395.61"/><polygon points="220.53,392.67 223.58,394.28 223.39,395.24 222.45,395.54"/><polygon points="235.01,392.57 238.11,394.21 237.91,395.17 236.97,395.47"/><polygon points="249.49,392.46 252.59,394.10 252.39,395.07 251.45,395.37"/><polygon points="264.00,392.38 267.10,394.02 266.90,394.99 265.96,395.28"/><polygon points="278.59,392.37 281.69,394.01 281.49,394.97 280.55,395.27"/><polygon points="293.11,392.30 296.21,393.94 296.01,394.90 295.07,395.20"/><polygon points="307.57,392.17 310.67,393.81 310.47,394.78 309.53,395.08"/><polygon points="322.15,392.15 325.25,393.79 325.05,394.76 324.11,395.06"/><polygon points="336.66,392.07 339.76,393.71 339.56,394.68 338.62,394.98"/><polygon points="351.24,392.05 354.34,393.70 354.14,394.66 353.20,394.96"/><polygon points="365.75,391.97 368.84,393.61 368.65,394.58 367.71,394.87"/><polygon points="380.34,391.97 383.44,393.61 383.24,394.57 382.30,394.87"/><polygon points="394.89,391.92 397.99,393.56 397.79,394.52 396.85,394.82"/><polygon points="409.43,391.87 412.53,393.51 412.34,394.48 411.40,394.77"/><polygon points="423.92,391.77 427.02,393.41 426.83,394.38 425.89,394.68"/><polygon points="438.52,391.77 441.62,393.41 441.43,394.38 440.49,394.68"/><polygon points="453.12,391.77 456.22,393.41 456.03,394.38 455.09,394.68"/><polygon points="467.72,391.77 470.82,393.41 470.63,394.38 469.69,394.68"/><polygon points="482.32,391.77 485.42,393.41 485.23,394.38 484.29,394.68"/><polygon points="496.92,391.77 500.02,393.41 499.83,394.38 498.89,394.68"/><polygon points="119.60,406.93 122.15,408.08 121.95,409.04 121.01,409.34"/><polygon points="133.56,406.35 136.36,407.73 136.17,408.70 135.23,409.00"/><polygon points="147.67,405.92 150.67,407.47 150.47,408.43 149.53,408.73"/><polygon points="161.92,405.60 165.01,407.24 164.82,408.20 163.88,408.50"/><polygon points="176.29,405.39 179.38,407.03 179.19,408.00 178.25,408.29"/><polygon points="190.77,405.29 193.87,406.93 193.67,407.89 192.73,408.19"/><polygon points="205.37,405.29 208.47,406.93 208.27,407.89 207.33,408.19"/><polygon points="219.97,405.29 223.07,406.93 222.87,407.89 221.93,408.19"/><polygon points="234.57,405.29 237.67,406.93 237.47,407.89 236.53,408.19"/><polygon points="249.17,405.29 252.27,406.93 252.07,407.89 251.13,408.19"/><polygon points="263.77,405.29 266.87,406.93 266.67,407.89 265.73,408.19"/><polygon points="278.26,405.18 281.36,406.83 281.16,407.79 280.22,408.09"/><polygon points="292.75,405.08 295.84,406.72 295.65,407.69 294.71,407.99"/><polygon points="307.23,404.98 310.33,406.62 310.14,407.59 309.20,407.89"/><polygon points="321.83,404.98 324.93,406.62 324.74,407.59 323.80,407.89"/><polygon points="336.32,404.88 339.42,406.53 339.23,407.49 338.29,407.79"/><polygon points="350.92,404.88 354.02,406.53 353.83,407.49 352.89,407.79"/><polygon points="365.52,404.88 368.62,406.53 368.43,407.49 367.49,407.79"/><polygon points="380.12,404.88 383.22,406.53 383.03,407.49 382.09,407.79"/><polygon points="394.67,404.84 397.77,406.48 397.57,407.44 396.63,407.74"/><polygon points="409.21,404.79 412.31,406.43 412.12,407.39 411.18,407.69"/><polygon points="423.81,404.79 426.91,406.43 426.72,407.39 425.78,407.69"/><polygon points="438.41,404.79 441.51,406.43 441.32,407.39 440.38,407.69"/><polygon points="453.01,404.79 456.11,406.43 455.92,407.39 454.98,407.69"/><polygon points="467.61,404.79 470.71,406.43 470.52,407.39 469.58,407.69"/><polygon points="482.21,404.79 485.31,406.43 485.12,407.39 484.18,407.69"/><polygon points="496.81,404.79 499.91,406.43 499.72,407.39 498.78,407.69"/><polygon points="102.08,417.42 105.18,419.06 104.98,420.03 104.04,420.32"/><polygon points="116.68,417.42 119.78,419.06 119.58,420.03 118.64,420.32"/><polygon points="131.28,417.42 134.38,419.06 134.18,420.03 133.24,420.32"/><polygon points="145.88,417.42 148.98,419.06 148.78,420.03 147.84,420.32"/><polygon points="160.48,417.42 163.58,419.06 163.38,420.03 162.44,420.32"/><polygon points="175.08,417.42 178.18,419.06 177.98,420.03 177.04,420.32"/><polygon points="189.68,417.42 192.78,419.06 192.58,420.03 191.64,420.32"/><polygon points="204.28,417.42 207.38,419.06 207.18,420.03 206.24,420.32"/><polygon points="218.88,417.42 221.98,419.06 221.78,420.03 220.84,420.32"/><polygon points="233.48,417.42 236.58,419.06 236.38,420.03 235.44,420.32"/><polygon points="248.08,417.42 251.18,419.06 250.98,420.03 250.04,420.32"/><polygon points="262.68,417.42 265.78,419.06 265.58,420.03 264.64,420.32"/><polygon points="277.28,417.42 280.38,419.06 280.18,420.03 279.24,420.32"/><polygon points="291.88,417.42 294.98,419.06 294.78,420.03 293.84,420.32"/><polygon points="306.48,417.42 309.58,419.06 309.38,420.03 308.44,420.32"/><polygon points="321.08,417.42 324.18,419.06 323.98,420.03 323.04,420.32"/><polygon points="335.68,417.42 338.78,419.06 338.58,420.03 337.64,420.32"/><polygon points="350.28,417.42 353.38,419.06 353.18,420.03 352.24,420.32"/><polygon points="364.88,417.42 367.98,419.06 367.78,420.03 366.84,420.32"/><polygon points="379.48,417.42 382.58,419.06 382.38,420.03 381.44,420.32"/><polygon points="394.08,417.42 397.18,419.06 396.98,420.03 396.04,420.32"/><polygon points="408.68,417.42 411.78,419.06 411.58,420.03 410.64,420.32"/><polygon points="423.28,417.42 426.38,419.06 426.18,420.03 425.24,420.32"/><polygon points="437.88,417.42 440.98,419.06 440.78,420.03 439.84,420.32"/><polygon points="452.48,417.42 455.58,419.06 455.38,420.03 454.44,420.32"/><polygon points="467.08,417.42 470.18,419.06 469.98,420.03 469.04,420.32"/><polygon points="481.68,417.42 484.78,419.06 484.58,420.03 483.64,420.32"/><polygon points="496.28,417.42 499.38,419.06 499.18,420.03 498.24,420.32"/></g>
<g stroke="#878787" stroke-width="1.25" fill="none">
<rect x="61.0" y="29.5" width="481.0" height="460.8"/>
<path d="M74.8 490.3V485.8M74.8 29.5V34.0M220.6 490.3V485.8M220.6 29.5V34.0M366.7 490.3V485.8M366.7 29.5V34.0M512.6 490.3V485.8M512.6 29.5V34.0M61.0 426.5H65.5M542.0 426.5H537.5M61.0 295.7H65.5M542.0 295.7H537.5M61.0 164.9H65.5M542.0 164.9H537.5M61.0 33.6H65.5M542.0 33.6H537.5"/>
</g>
<defs><linearGradient id="cb" x1="0" x2="1" y1="0" y2="0">
<stop offset="0.0000" stop-color="#3c7dbe"/>
<stop offset="0.1250" stop-color="#6ea0c8"/>
<stop offset="0.2500" stop-color="#a5bec3"/>
<stop offset="0.3750" stop-color="#cddebe"/>
<stop offset="0.5000" stop-color="#faf5b4"/>
<stop offset="0.6250" stop-color="#fac88c"/>
<stop offset="0.7500" stop-color="#fa915f"/>
<stop offset="0.8750" stop-color="#fa5f3c"/>
<stop offset="1.0000" stop-color="#f52823"/>
</linearGradient></defs>
<rect x="238.2" y="449.1" width="258.5" height="13.3" fill="url(#cb)" stroke="#1a1a1a" stroke-width="0.75" stroke-opacity="0.85"/>
<path d="M302.8 462.4V459.6M367.4 462.4V459.6M432.1 462.4V459.6" stroke="#333" stroke-width="0.8"/>
<path d="M126.5 467.4H137.6" stroke="#333" stroke-width="1"/>
<polygon points="142.1,467.4 136.4,465.6 137.4,467.4 136.4,469.2" fill="#111"/>
<text x="300.6" y="24.6" font-size="15.90" text-anchor="middle" font-family="Liberation Serif, Times New Roman, serif" font-weight="bold" fill="#000" stroke="#000" stroke-width="0.3" >Simulated deformation diagram</text>
<text x="297.2" y="46.8" font-size="12.30" text-anchor="middle" font-family="Liberation Serif, Times New Roman, serif" font-weight="bold" fill="#000" stroke="#000" stroke-width="0.3" >Window size: 50 m</text>
<text x="301.8" y="528.4" font-size="15.60" text-anchor="middle" font-family="Liberation Serif, Times New Roman, serif" font-weight="bold" fill="#000" stroke="#000" stroke-width="0.3" >Easting (m)</text>
<text transform="translate(20.8 259.2) rotate(-90)" font-size="15.9" text-anchor="middle" font-family="Liberation Serif, Times New Roman, serif" font-weight="bold" fill="#000" stroke="#000" stroke-width="0.3">Northing (m)</text>
<text x="41.2" y="432.1" font-size="14.60" text-anchor="middle" font-family="Liberation Serif, Times New Roman, serif" font-weight="bold" fill="#000" stroke="#000" stroke-width="0.3" >0</text>
<text x="41.2" y="301.3" font-size="14.60" text-anchor="middle" font-family="Liberation Serif, Times New Roman, serif" font-weight="bold" fill="#000" stroke="#000" stroke-width="0.3" >500</text>
<text x="41.2" y="170.5" font-size="14.60" text-anchor="middle" font-family="Liberation Serif, Times New Roman, serif" font-weight="bold" fill="#000" stroke="#000" stroke-width="0.3" >1000</text>
<text x="41.2" y="39.2" font-size="14.60" text-anchor="middle" font-family="Liberation Serif, Times New Roman, serif" font-weight="bold" fill="#000" stroke="#000" stroke-width="0.3" >1500</text>
<text x="69.4" y="509.8" font-size="14.60" text-anchor="middle" font-family="Liberation Serif, Times New Roman, serif" font-weight="bold" fill="#000" stroke="#000" stroke-width="0.3" >0</text>
<text x="218.9" y="509.8" font-size="14.60" text-anchor="middle" font-family="Liberation Serif, Times New Roman, serif" font-weight="bold" fill="#000" stroke="#000" stroke-width="0.3" >500</text>
<text x="367.1" y="509.8" font-size="14.60" text-anchor="middle" font-family="Liberation Serif, Times New Roman, serif" font-weight="bold" fill="#000" stroke="#000" stroke-width="0.3" >1000</text>
<text x="512.7" y="509.8" font-size="14.60" text-anchor="middle" font-family="Liberation Serif, Times New Roman, serif" font-weight="bold" fill="#000" stroke="#000" stroke-width="0.3" >1500</text>
<text x="96.5" y="452.4" font-size="12.45" text-anchor="start" font-family="Liberation Serif, Times New Roman, serif" font-weight="bold" fill="#000" stroke="#000" stroke-width="0.3" >Horizontal displacement</text>
<text x="155.8" y="470.4" font-size="12.00" text-anchor="start" font-family="Liberation Serif, Times New Roman, serif" font-weight="bold" fill="#000" stroke="#000" stroke-width="0.3" >5 m</text>
<text x="373.2" y="442.5" font-size="12.50" text-anchor="middle" font-family="Liberation Serif, Times New Roman, serif" font-weight="bold" fill="#000" stroke="#000" stroke-width="0.3" >Vertical displacement (m)</text>
<text x="238.2" y="478.6" font-size="12.10" text-anchor="middle" font-family="Liberation Serif, Times New Roman, serif" font-weight="bold" fill="#000" stroke="#000" stroke-width="0.3" >&#8722;5</text>
<text x="302.8" y="478.6" font-size="12.10" text-anchor="middle" font-family="Liberation Serif, Times New Roman, serif" font-weight="bold" fill="#000" stroke="#000" stroke-width="0.3" >&#8722;2.5</text>
<text x="367.4" y="478.6" font-size="12.10" text-anchor="middle" font-family="Liberation Serif, Times New Roman, serif" font-weight="bold" fill="#000" stroke="#000" stroke-width="0.3" >0</text>
<text x="432.1" y="478.6" font-size="12.10" text-anchor="middle" font-family="Liberation Serif, Times New Roman, serif" font-weight="bold" fill="#000" stroke="#000" stroke-width="0.3" >2.5</text>
<text x="496.7" y="478.6" font-size="12.10" text-anchor="middle" font-family="Liberation Serif, Times New Roman, serif" font-weight="bold" fill="#000" stroke="#000" stroke-width="0.3" >5</text>
</svg>
</body></html>
